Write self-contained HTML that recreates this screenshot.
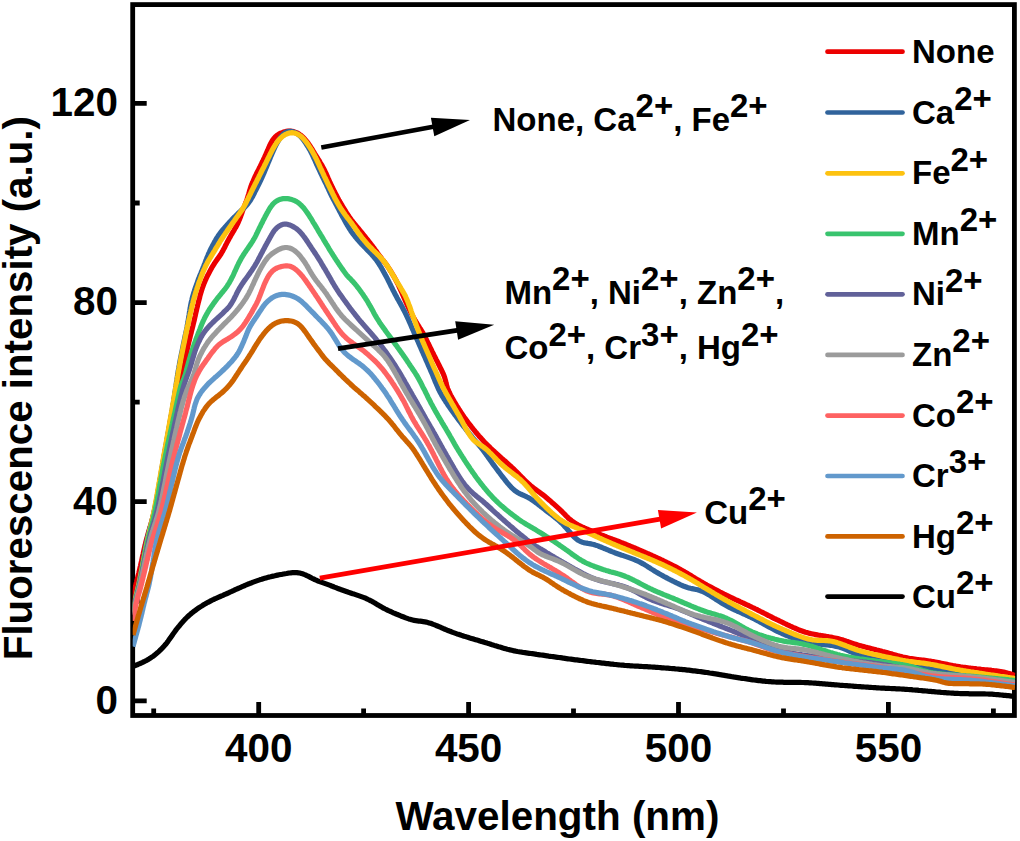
<!DOCTYPE html><html><head><meta charset="utf-8"><style>html,body{margin:0;padding:0;background:#fff;}svg{display:block;}text{font-family:"Liberation Sans",sans-serif;font-weight:bold;fill:#000;}</style></head><body>
<svg width="1020" height="841" viewBox="0 0 1020 841">
<rect width="1020" height="841" fill="#fff"/>
<defs><clipPath id="pc"><rect x="132.7" y="4.6" width="882.6" height="710.9"/></clipPath></defs>
<rect x="132.7" y="4.6" width="881.7" height="710.9" fill="none" stroke="#000" stroke-width="4.8"/>
<path d="M258.7,715.5 V702.0 M468.6,715.5 V702.0 M678.5,715.5 V702.0 M888.4,715.5 V702.0 M153.7,715.5 V708.5 M363.6,715.5 V708.5 M573.5,715.5 V708.5 M783.5,715.5 V708.5 M993.4,715.5 V708.5 M132.7,700.8 H146.7 M132.7,501.7 H146.7 M132.7,302.6 H146.7 M132.7,103.4 H146.7 M132.7,601.2 H139.7 M132.7,402.1 H139.7 M132.7,203.0 H139.7" stroke="#000" stroke-width="4.8" fill="none"/>
<g clip-path="url(#pc)" fill="none" stroke-width="5.2" stroke-linejoin="round" stroke-linecap="butt">
<path d="M133.0,601.0 L133.2,599.5 L133.4,598.0 L133.6,596.5 L133.9,595.1 L134.1,593.6 L134.4,592.1 L134.6,590.6 L134.9,589.2 L135.2,587.7 L135.6,586.2 L135.9,584.8 L136.2,583.3 L136.6,581.8 L136.9,580.4 L137.3,578.9 L137.7,577.5 L138.0,576.0 L138.4,574.6 L138.8,573.1 L139.1,571.7 L139.5,570.2 L139.8,568.7 L140.1,567.3 L140.5,565.8 L140.8,564.4 L141.1,562.9 L141.5,561.4 L141.8,560.0 L142.1,558.5 L142.4,557.0 L142.7,555.6 L143.1,554.1 L143.4,552.6 L143.7,551.2 L144.0,549.7 L144.4,548.2 L144.7,546.8 L145.0,545.3 L145.4,543.9 L145.7,542.4 L146.1,540.9 L146.5,539.5 L146.9,538.0 L147.3,536.6 L147.7,535.2 L148.1,533.7 L148.5,532.3 L148.9,530.8 L149.4,529.4 L149.8,528.0 L150.2,526.5 L150.7,525.1 L151.1,523.7 L151.5,522.2 L151.9,520.8 L152.3,519.3 L152.7,517.9 L153.1,516.4 L153.5,515.0 L153.9,513.5 L154.2,512.1 L154.5,510.6 L154.9,509.1 L155.2,507.7 L155.5,506.2 L155.8,504.7 L156.1,503.3 L156.4,501.8 L156.7,500.3 L156.9,498.9 L157.2,497.4 L157.5,495.9 L157.7,494.4 L158.0,492.9 L158.3,491.5 L158.5,490.0 L158.8,488.5 L159.0,487.0 L159.3,485.6 L159.5,484.1 L159.8,482.6 L160.0,481.1 L160.3,479.6 L160.5,478.2 L160.8,476.7 L161.0,475.2 L161.3,473.7 L161.5,472.2 L161.8,470.8 L162.0,469.3 L162.3,467.8 L162.5,466.3 L162.8,464.8 L163.0,463.4 L163.3,461.9 L163.5,460.4 L163.8,458.9 L164.0,457.5 L164.3,456.0 L164.5,454.5 L164.8,453.0 L165.1,451.5 L165.3,450.1 L165.6,448.6 L165.8,447.1 L166.1,445.6 L166.4,444.2 L166.6,442.7 L166.9,441.2 L167.1,439.7 L167.4,438.2 L167.6,436.8 L167.9,435.3 L168.2,433.8 L168.4,432.3 L168.7,430.9 L168.9,429.4 L169.2,427.9 L169.5,426.4 L169.7,425.0 L170.0,423.5 L170.2,422.0 L170.5,420.5 L170.8,419.0 L171.0,417.6 L171.3,416.1 L171.6,414.6 L171.8,413.1 L172.1,411.7 L172.4,410.2 L172.6,408.7 L172.9,407.2 L173.2,405.8 L173.4,404.3 L173.7,402.8 L174.0,401.3 L174.2,399.9 L174.5,398.4 L174.8,396.9 L175.1,395.4 L175.4,394.0 L175.7,392.5 L176.1,391.0 L176.4,389.6 L176.8,388.1 L177.2,386.7 L177.6,385.3 L178.1,383.8 L178.6,382.4 L179.1,381.0 L179.6,379.6 L180.2,378.2 L180.7,376.8 L181.3,375.4 L181.8,374.0 L182.3,372.6 L182.7,371.2 L183.1,369.7 L183.5,368.3 L183.9,366.8 L184.2,365.4 L184.6,363.9 L184.9,362.4 L185.1,361.0 L185.4,359.5 L185.7,358.0 L186.0,356.5 L186.2,355.1 L186.5,353.6 L186.8,352.1 L187.0,350.6 L187.3,349.2 L187.6,347.7 L187.9,346.2 L188.2,344.8 L188.6,343.3 L188.9,341.8 L189.3,340.4 L189.6,338.9 L190.0,337.5 L190.3,336.0 L190.7,334.6 L191.1,333.1 L191.4,331.7 L191.8,330.2 L192.2,328.7 L192.5,327.3 L192.9,325.8 L193.2,324.4 L193.6,322.9 L193.9,321.5 L194.3,320.0 L194.6,318.5 L194.9,317.1 L195.3,315.6 L195.6,314.1 L195.9,312.7 L196.3,311.2 L196.6,309.8 L196.9,308.3 L197.3,306.8 L197.6,305.4 L198.0,303.9 L198.3,302.5 L198.7,301.0 L199.1,299.6 L199.5,298.1 L199.8,296.7 L200.2,295.2 L200.6,293.8 L201.0,292.3 L201.5,290.9 L201.9,289.5 L202.4,288.0 L202.9,286.6 L203.4,285.2 L203.9,283.8 L204.5,282.4 L205.1,281.0 L205.7,279.7 L206.3,278.3 L206.9,276.9 L207.6,275.6 L208.3,274.3 L209.0,272.9 L209.7,271.6 L210.4,270.3 L211.1,269.0 L211.8,267.7 L212.6,266.4 L213.4,265.1 L214.2,263.8 L215.0,262.6 L215.9,261.3 L216.7,260.1 L217.6,258.9 L218.4,257.7 L219.3,256.4 L220.1,255.2 L221.0,253.9 L221.7,252.7 L222.5,251.4 L223.2,250.1 L223.9,248.7 L224.6,247.4 L225.3,246.1 L225.9,244.7 L226.6,243.4 L227.3,242.0 L228.0,240.7 L228.7,239.4 L229.4,238.1 L230.2,236.8 L230.9,235.5 L231.7,234.2 L232.4,232.9 L233.2,231.6 L234.0,230.3 L234.7,229.0 L235.5,227.7 L236.2,226.4 L236.9,225.1 L237.6,223.8 L238.2,222.4 L238.8,221.0 L239.4,219.7 L239.9,218.3 L240.5,216.9 L241.0,215.5 L241.5,214.1 L242.0,212.6 L242.5,211.2 L243.0,209.8 L243.6,208.4 L244.1,207.0 L244.7,205.6 L245.2,204.2 L245.8,202.8 L246.3,201.4 L246.8,200.0 L247.3,198.6 L247.7,197.2 L248.1,195.8 L248.6,194.3 L249.0,192.9 L249.4,191.4 L249.8,190.0 L250.3,188.6 L250.7,187.1 L251.2,185.7 L251.8,184.3 L252.3,182.9 L252.9,181.6 L253.5,180.2 L254.1,178.8 L254.7,177.4 L255.3,176.1 L256.0,174.7 L256.6,173.4 L257.3,172.0 L258.0,170.7 L258.7,169.4 L259.3,168.0 L260.0,166.7 L260.7,165.3 L261.4,164.0 L262.0,162.6 L262.7,161.3 L263.3,159.9 L263.9,158.6 L264.6,157.2 L265.2,155.9 L265.8,154.5 L266.4,153.1 L267.0,151.7 L267.6,150.4 L268.2,149.0 L268.8,147.6 L269.4,146.2 L270.0,144.9 L270.7,143.5 L271.4,142.2 L272.1,140.9 L272.9,139.7 L273.8,138.5 L274.8,137.4 L275.8,136.4 L276.9,135.4 L278.1,134.6 L279.4,133.8 L280.7,133.1 L282.1,132.6 L283.4,132.1 L284.9,131.7 L286.3,131.4 L287.8,131.2 L289.2,131.1 L290.7,131.2 L292.1,131.3 L293.6,131.6 L295.0,132.1 L296.3,132.6 L297.7,133.2 L298.9,134.0 L300.1,134.8 L301.3,135.7 L302.4,136.7 L303.5,137.7 L304.5,138.8 L305.5,139.9 L306.5,141.1 L307.4,142.2 L308.3,143.4 L309.2,144.7 L310.0,145.9 L310.8,147.2 L311.6,148.4 L312.4,149.7 L313.2,151.0 L314.0,152.3 L314.7,153.5 L315.5,154.8 L316.3,156.1 L317.1,157.4 L317.9,158.7 L318.7,159.9 L319.5,161.2 L320.2,162.5 L321.0,163.8 L321.8,165.1 L322.5,166.4 L323.2,167.7 L323.9,169.0 L324.6,170.4 L325.2,171.7 L325.9,173.1 L326.5,174.4 L327.1,175.8 L327.7,177.2 L328.3,178.6 L328.9,179.9 L329.5,181.3 L330.1,182.7 L330.8,184.0 L331.4,185.4 L332.1,186.7 L332.7,188.1 L333.4,189.4 L334.1,190.8 L334.7,192.1 L335.4,193.4 L336.1,194.8 L336.8,196.1 L337.5,197.4 L338.2,198.7 L338.9,200.0 L339.7,201.4 L340.4,202.7 L341.2,203.9 L341.9,205.2 L342.7,206.5 L343.5,207.8 L344.3,209.1 L345.1,210.4 L345.8,211.6 L346.6,212.9 L347.5,214.2 L348.3,215.4 L349.1,216.7 L350.0,217.9 L350.8,219.1 L351.7,220.3 L352.7,221.5 L353.6,222.7 L354.5,223.8 L355.5,225.0 L356.4,226.2 L357.4,227.3 L358.4,228.5 L359.3,229.6 L360.3,230.8 L361.2,231.9 L362.2,233.1 L363.1,234.3 L364.0,235.5 L365.0,236.6 L365.9,237.8 L366.8,239.0 L367.8,240.1 L368.7,241.3 L369.6,242.5 L370.6,243.7 L371.5,244.9 L372.4,246.0 L373.3,247.2 L374.2,248.4 L375.1,249.7 L376.0,250.9 L376.9,252.1 L377.7,253.3 L378.6,254.5 L379.5,255.7 L380.4,256.9 L381.3,258.1 L382.2,259.3 L383.2,260.5 L384.1,261.6 L385.0,262.8 L385.9,264.0 L386.8,265.3 L387.6,266.5 L388.5,267.7 L389.3,269.0 L390.1,270.3 L390.9,271.5 L391.7,272.8 L392.4,274.1 L393.2,275.4 L394.0,276.7 L394.7,278.0 L395.4,279.3 L396.2,280.6 L396.8,281.9 L397.5,283.3 L398.2,284.6 L398.8,286.0 L399.4,287.3 L400.0,288.7 L400.7,290.1 L401.3,291.4 L401.9,292.8 L402.5,294.2 L403.1,295.6 L403.7,296.9 L404.3,298.3 L404.9,299.7 L405.5,301.1 L406.1,302.4 L406.7,303.8 L407.3,305.2 L407.9,306.5 L408.6,307.9 L409.2,309.2 L409.9,310.6 L410.5,311.9 L411.2,313.3 L411.9,314.6 L412.6,315.9 L413.3,317.2 L414.1,318.5 L414.8,319.8 L415.6,321.1 L416.3,322.4 L417.1,323.7 L417.9,325.0 L418.7,326.2 L419.5,327.5 L420.3,328.8 L421.1,330.0 L421.9,331.3 L422.7,332.6 L423.4,333.9 L424.1,335.3 L424.8,336.6 L425.5,337.9 L426.1,339.3 L426.8,340.6 L427.5,342.0 L428.1,343.3 L428.8,344.6 L429.4,346.0 L430.1,347.3 L430.8,348.7 L431.4,350.0 L432.1,351.4 L432.8,352.7 L433.4,354.1 L434.1,355.4 L434.8,356.7 L435.5,358.1 L436.1,359.4 L436.8,360.8 L437.5,362.1 L438.2,363.4 L438.8,364.8 L439.5,366.1 L440.2,367.5 L440.8,368.8 L441.5,370.1 L442.1,371.5 L442.8,372.9 L443.4,374.2 L443.9,375.6 L444.5,377.0 L444.9,378.4 L445.3,379.9 L445.7,381.3 L446.0,382.7 L446.4,384.2 L446.7,385.6 L447.2,387.1 L447.6,388.5 L448.2,389.9 L448.8,391.2 L449.4,392.6 L450.1,393.9 L450.7,395.3 L451.5,396.6 L452.2,397.9 L452.9,399.2 L453.7,400.5 L454.4,401.8 L455.2,403.1 L455.9,404.4 L456.7,405.7 L457.5,406.9 L458.3,408.2 L459.1,409.5 L459.9,410.7 L460.7,412.0 L461.5,413.2 L462.4,414.5 L463.2,415.7 L464.1,417.0 L465.0,418.2 L465.8,419.4 L466.7,420.6 L467.6,421.8 L468.5,423.0 L469.4,424.2 L470.4,425.4 L471.3,426.6 L472.2,427.7 L473.1,428.9 L474.1,430.1 L475.0,431.3 L476.0,432.4 L476.9,433.6 L477.9,434.7 L478.9,435.9 L479.9,437.0 L480.9,438.1 L481.9,439.2 L482.9,440.3 L483.9,441.4 L484.9,442.5 L486.0,443.6 L487.0,444.6 L488.1,445.7 L489.2,446.7 L490.3,447.8 L491.4,448.8 L492.5,449.8 L493.6,450.8 L494.7,451.9 L495.8,452.9 L496.9,453.9 L498.0,454.9 L499.1,455.9 L500.2,456.9 L501.3,457.9 L502.5,458.9 L503.6,459.9 L504.7,460.8 L505.9,461.8 L507.0,462.8 L508.1,463.8 L509.2,464.8 L510.3,465.8 L511.4,466.9 L512.5,467.9 L513.6,468.9 L514.7,470.0 L515.7,471.0 L516.8,472.1 L517.8,473.2 L518.9,474.2 L519.9,475.3 L521.0,476.4 L522.0,477.5 L523.1,478.5 L524.1,479.6 L525.2,480.7 L526.3,481.7 L527.4,482.7 L528.5,483.7 L529.6,484.7 L530.7,485.7 L531.9,486.7 L533.1,487.6 L534.3,488.5 L535.5,489.4 L536.7,490.3 L537.9,491.2 L539.1,492.0 L540.3,492.9 L541.5,493.8 L542.7,494.7 L543.9,495.6 L545.1,496.6 L546.2,497.5 L547.4,498.5 L548.5,499.4 L549.7,500.4 L550.8,501.4 L551.9,502.4 L553.1,503.4 L554.2,504.4 L555.3,505.4 L556.4,506.4 L557.5,507.4 L558.6,508.4 L559.7,509.4 L560.8,510.5 L561.9,511.5 L562.9,512.6 L564.0,513.6 L565.0,514.7 L566.1,515.8 L567.2,516.8 L568.2,517.9 L569.4,518.9 L570.5,519.8 L571.7,520.8 L572.9,521.6 L574.1,522.5 L575.3,523.3 L576.6,524.1 L577.9,524.8 L579.3,525.5 L580.6,526.2 L581.9,526.8 L583.3,527.4 L584.7,528.1 L586.1,528.7 L587.4,529.2 L588.8,529.8 L590.2,530.4 L591.6,531.0 L593.0,531.5 L594.4,532.1 L595.8,532.7 L597.1,533.2 L598.5,533.8 L599.9,534.3 L601.3,534.9 L602.7,535.4 L604.1,536.0 L605.5,536.5 L606.9,537.1 L608.3,537.6 L609.7,538.1 L611.1,538.6 L612.5,539.2 L613.9,539.7 L615.3,540.2 L616.7,540.8 L618.1,541.3 L619.5,541.8 L620.9,542.4 L622.3,542.9 L623.7,543.5 L625.1,544.0 L626.5,544.6 L627.9,545.2 L629.3,545.7 L630.7,546.3 L632.1,546.9 L633.5,547.5 L634.8,548.0 L636.2,548.6 L637.6,549.2 L639.0,549.8 L640.4,550.4 L641.7,551.0 L643.1,551.6 L644.5,552.2 L645.9,552.8 L647.2,553.4 L648.6,554.0 L650.0,554.6 L651.4,555.2 L652.7,555.8 L654.1,556.4 L655.4,557.0 L656.8,557.7 L658.2,558.3 L659.5,558.9 L660.9,559.6 L662.2,560.2 L663.6,560.9 L664.9,561.5 L666.3,562.2 L667.6,562.9 L669.0,563.5 L670.3,564.2 L671.7,564.9 L673.0,565.5 L674.3,566.2 L675.7,566.9 L677.0,567.6 L678.3,568.3 L679.6,569.0 L681.0,569.8 L682.3,570.5 L683.6,571.2 L684.9,572.0 L686.2,572.7 L687.5,573.5 L688.7,574.3 L690.0,575.0 L691.3,575.8 L692.6,576.6 L693.9,577.4 L695.1,578.2 L696.4,579.0 L697.7,579.7 L699.0,580.5 L700.3,581.3 L701.6,582.0 L702.9,582.8 L704.2,583.5 L705.5,584.2 L706.8,585.0 L708.1,585.7 L709.4,586.4 L710.8,587.1 L712.1,587.8 L713.4,588.5 L714.7,589.2 L716.0,589.9 L717.4,590.6 L718.7,591.3 L720.0,592.0 L721.4,592.7 L722.7,593.4 L724.1,594.1 L725.4,594.7 L726.7,595.4 L728.1,596.0 L729.4,596.7 L730.8,597.3 L732.1,598.0 L733.5,598.6 L734.9,599.3 L736.2,599.9 L737.6,600.5 L739.0,601.1 L740.3,601.8 L741.7,602.4 L743.0,603.0 L744.4,603.6 L745.8,604.3 L747.1,604.9 L748.5,605.5 L749.8,606.2 L751.2,606.8 L752.6,607.5 L753.9,608.1 L755.2,608.8 L756.6,609.4 L757.9,610.1 L759.3,610.8 L760.6,611.5 L761.9,612.1 L763.3,612.8 L764.6,613.5 L766.0,614.2 L767.3,614.9 L768.6,615.6 L770.0,616.2 L771.3,616.9 L772.6,617.6 L774.0,618.3 L775.3,618.9 L776.7,619.6 L778.0,620.2 L779.4,620.9 L780.7,621.5 L782.1,622.2 L783.4,622.8 L784.8,623.5 L786.1,624.1 L787.5,624.8 L788.8,625.4 L790.2,626.1 L791.6,626.7 L792.9,627.3 L794.3,627.9 L795.7,628.5 L797.1,629.1 L798.4,629.7 L799.8,630.2 L801.2,630.7 L802.7,631.2 L804.1,631.7 L805.5,632.2 L806.9,632.6 L808.4,633.0 L809.8,633.4 L811.3,633.7 L812.8,634.0 L814.2,634.3 L815.7,634.6 L817.2,634.9 L818.7,635.2 L820.1,635.4 L821.6,635.7 L823.1,635.9 L824.6,636.1 L826.1,636.4 L827.5,636.6 L829.0,636.9 L830.5,637.1 L832.0,637.4 L833.4,637.7 L834.9,638.0 L836.4,638.3 L837.8,638.6 L839.3,639.0 L840.7,639.4 L842.2,639.8 L843.6,640.3 L845.0,640.7 L846.5,641.2 L847.9,641.6 L849.3,642.1 L850.7,642.6 L852.1,643.1 L853.6,643.6 L855.0,644.1 L856.4,644.5 L857.8,645.0 L859.3,645.4 L860.7,645.8 L862.2,646.2 L863.6,646.6 L865.1,647.0 L866.5,647.4 L868.0,647.7 L869.4,648.1 L870.9,648.5 L872.3,648.9 L873.8,649.2 L875.2,649.6 L876.7,650.0 L878.1,650.3 L879.6,650.7 L881.0,651.1 L882.5,651.5 L883.9,651.8 L885.4,652.2 L886.8,652.6 L888.3,653.0 L889.7,653.4 L891.2,653.8 L892.6,654.3 L894.1,654.7 L895.5,655.1 L896.9,655.5 L898.4,655.9 L899.8,656.2 L901.3,656.6 L902.8,657.0 L904.2,657.3 L905.7,657.6 L907.1,657.9 L908.6,658.2 L910.1,658.5 L911.6,658.7 L913.1,658.9 L914.5,659.1 L916.0,659.3 L917.5,659.5 L919.0,659.7 L920.5,659.8 L922.0,660.0 L923.5,660.2 L925.0,660.4 L926.5,660.6 L927.9,660.8 L929.4,661.0 L930.9,661.2 L932.4,661.5 L933.9,661.7 L935.3,662.0 L936.8,662.3 L938.3,662.6 L939.7,662.9 L941.2,663.2 L942.7,663.5 L944.1,663.8 L945.6,664.1 L947.1,664.4 L948.6,664.7 L950.0,665.0 L951.5,665.3 L953.0,665.6 L954.5,665.8 L955.9,666.1 L957.4,666.3 L958.9,666.5 L960.4,666.8 L961.9,667.0 L963.3,667.2 L964.8,667.4 L966.3,667.6 L967.8,667.8 L969.3,668.0 L970.8,668.2 L972.3,668.3 L973.8,668.5 L975.3,668.7 L976.7,668.9 L978.2,669.0 L979.7,669.2 L981.2,669.4 L982.7,669.5 L984.2,669.7 L985.7,669.8 L987.2,669.9 L988.7,670.1 L990.2,670.2 L991.7,670.4 L993.2,670.5 L994.6,670.7 L996.1,670.9 L997.6,671.1 L999.1,671.3 L1000.6,671.5 L1002.1,671.8 L1003.5,672.1 L1005.0,672.4 L1006.4,672.8 L1007.9,673.2 L1009.3,673.6 L1010.8,674.0 L1012.2,674.5 L1013.6,675.0 L1015.0,675.4 L1015.0,675.4" stroke="#ec0000"/>
<path d="M133.0,611.0 L133.3,609.5 L133.5,608.0 L133.8,606.6 L134.0,605.1 L134.3,603.6 L134.6,602.1 L134.9,600.7 L135.2,599.2 L135.5,597.7 L135.9,596.3 L136.2,594.8 L136.5,593.4 L136.9,591.9 L137.2,590.4 L137.6,589.0 L137.9,587.5 L138.3,586.1 L138.6,584.6 L138.9,583.1 L139.2,581.7 L139.5,580.2 L139.8,578.7 L140.1,577.3 L140.4,575.8 L140.7,574.3 L141.0,572.8 L141.2,571.4 L141.5,569.9 L141.8,568.4 L142.0,566.9 L142.3,565.5 L142.6,564.0 L142.8,562.5 L143.1,561.0 L143.3,559.5 L143.6,558.1 L143.9,556.6 L144.1,555.1 L144.4,553.6 L144.7,552.2 L144.9,550.7 L145.2,549.2 L145.5,547.7 L145.8,546.3 L146.0,544.8 L146.3,543.3 L146.6,541.9 L147.0,540.4 L147.3,538.9 L147.6,537.5 L148.0,536.0 L148.3,534.5 L148.7,533.1 L149.0,531.6 L149.4,530.2 L149.8,528.7 L150.2,527.3 L150.6,525.8 L151.0,524.4 L151.4,522.9 L151.8,521.5 L152.1,520.0 L152.5,518.6 L152.9,517.1 L153.2,515.7 L153.6,514.2 L153.9,512.7 L154.2,511.3 L154.5,509.8 L154.8,508.4 L155.1,506.9 L155.4,505.4 L155.7,503.9 L156.0,502.5 L156.3,501.0 L156.6,499.5 L156.8,498.0 L157.1,496.6 L157.4,495.1 L157.6,493.6 L157.9,492.1 L158.1,490.7 L158.4,489.2 L158.7,487.7 L158.9,486.2 L159.2,484.7 L159.4,483.3 L159.7,481.8 L159.9,480.3 L160.2,478.8 L160.4,477.4 L160.7,475.9 L160.9,474.4 L161.2,472.9 L161.4,471.4 L161.7,470.0 L161.9,468.5 L162.2,467.0 L162.4,465.5 L162.7,464.0 L162.9,462.6 L163.2,461.1 L163.5,459.6 L163.7,458.1 L164.0,456.7 L164.2,455.2 L164.5,453.7 L164.8,452.2 L165.0,450.7 L165.3,449.3 L165.5,447.8 L165.8,446.3 L166.1,444.8 L166.3,443.4 L166.6,441.9 L166.9,440.4 L167.1,438.9 L167.4,437.5 L167.7,436.0 L167.9,434.5 L168.2,433.0 L168.5,431.6 L168.7,430.1 L169.0,428.6 L169.2,427.1 L169.5,425.6 L169.8,424.2 L170.0,422.7 L170.3,421.2 L170.5,419.7 L170.8,418.3 L171.0,416.8 L171.3,415.3 L171.6,413.8 L171.8,412.3 L172.0,410.9 L172.3,409.4 L172.5,407.9 L172.8,406.4 L173.0,404.9 L173.3,403.5 L173.5,402.0 L173.7,400.5 L173.9,399.0 L174.2,397.5 L174.4,396.0 L174.6,394.6 L174.8,393.1 L175.1,391.6 L175.3,390.1 L175.5,388.6 L175.7,387.1 L176.0,385.7 L176.2,384.2 L176.4,382.7 L176.6,381.2 L176.9,379.7 L177.1,378.2 L177.3,376.8 L177.5,375.3 L177.8,373.8 L178.0,372.3 L178.3,370.8 L178.5,369.4 L178.8,367.9 L179.0,366.4 L179.3,364.9 L179.5,363.5 L179.8,362.0 L180.1,360.5 L180.4,359.0 L180.7,357.6 L181.0,356.1 L181.3,354.6 L181.6,353.1 L181.9,351.7 L182.2,350.2 L182.5,348.7 L182.8,347.3 L183.1,345.8 L183.4,344.3 L183.7,342.9 L184.0,341.4 L184.3,339.9 L184.6,338.5 L184.9,337.0 L185.2,335.5 L185.6,334.1 L185.9,332.6 L186.2,331.1 L186.5,329.7 L186.8,328.2 L187.1,326.7 L187.3,325.2 L187.6,323.8 L187.9,322.3 L188.1,320.8 L188.4,319.3 L188.6,317.9 L188.8,316.4 L189.1,314.9 L189.3,313.4 L189.5,311.9 L189.8,310.4 L190.0,309.0 L190.3,307.5 L190.5,306.0 L190.8,304.5 L191.1,303.1 L191.4,301.6 L191.8,300.1 L192.1,298.7 L192.5,297.2 L192.9,295.8 L193.3,294.3 L193.7,292.9 L194.2,291.5 L194.6,290.0 L195.1,288.6 L195.6,287.2 L196.1,285.8 L196.6,284.4 L197.1,283.0 L197.6,281.5 L198.1,280.1 L198.6,278.7 L199.2,277.3 L199.7,276.0 L200.3,274.6 L200.9,273.2 L201.4,271.8 L202.0,270.4 L202.6,269.0 L203.1,267.6 L203.7,266.2 L204.2,264.8 L204.8,263.4 L205.3,262.0 L205.8,260.6 L206.4,259.2 L206.9,257.8 L207.5,256.4 L208.1,255.0 L208.6,253.7 L209.3,252.3 L209.9,250.9 L210.5,249.6 L211.2,248.2 L211.9,246.9 L212.6,245.6 L213.3,244.3 L214.0,242.9 L214.7,241.6 L215.5,240.3 L216.2,239.0 L217.0,237.8 L217.8,236.5 L218.6,235.2 L219.5,234.0 L220.4,232.8 L221.3,231.6 L222.2,230.5 L223.2,229.3 L224.2,228.2 L225.2,227.1 L226.2,225.9 L227.2,224.8 L228.2,223.7 L229.2,222.6 L230.2,221.5 L231.2,220.4 L232.2,219.3 L233.3,218.2 L234.3,217.1 L235.4,216.1 L236.5,215.0 L237.5,214.0 L238.6,212.9 L239.7,211.9 L240.8,210.9 L241.9,209.8 L243.0,208.8 L244.1,207.8 L245.1,206.8 L246.2,205.7 L247.2,204.6 L248.1,203.4 L249.0,202.2 L249.9,201.0 L250.7,199.8 L251.4,198.5 L252.2,197.2 L252.9,195.9 L253.6,194.5 L254.3,193.2 L254.9,191.8 L255.6,190.5 L256.3,189.2 L257.0,187.8 L257.6,186.5 L258.3,185.2 L259.0,183.8 L259.6,182.5 L260.3,181.1 L260.9,179.8 L261.6,178.4 L262.2,177.0 L262.8,175.7 L263.4,174.3 L264.0,172.9 L264.6,171.5 L265.2,170.1 L265.7,168.8 L266.3,167.4 L266.9,166.0 L267.5,164.6 L268.0,163.2 L268.6,161.8 L269.2,160.5 L269.8,159.1 L270.3,157.7 L270.9,156.3 L271.5,154.9 L272.1,153.5 L272.7,152.2 L273.3,150.8 L273.9,149.4 L274.5,148.1 L275.2,146.7 L275.8,145.4 L276.5,144.0 L277.2,142.7 L278.0,141.4 L278.8,140.1 L279.6,138.9 L280.4,137.6 L281.3,136.4 L282.2,135.3 L283.2,134.2 L284.2,133.3 L285.4,132.5 L286.6,131.9 L287.9,131.5 L289.2,131.4 L290.6,131.4 L292.0,131.6 L293.4,132.0 L294.8,132.5 L296.1,133.1 L297.3,133.9 L298.5,134.7 L299.6,135.7 L300.7,136.7 L301.7,137.8 L302.7,138.9 L303.6,140.1 L304.4,141.3 L305.3,142.6 L306.1,143.8 L306.9,145.1 L307.7,146.4 L308.5,147.6 L309.2,148.9 L310.0,150.2 L310.7,151.6 L311.4,152.9 L312.0,154.2 L312.7,155.6 L313.3,156.9 L313.9,158.3 L314.6,159.7 L315.2,161.0 L315.8,162.4 L316.4,163.8 L317.0,165.1 L317.7,166.5 L318.3,167.9 L318.9,169.2 L319.6,170.6 L320.2,171.9 L320.8,173.3 L321.5,174.7 L322.1,176.0 L322.8,177.4 L323.4,178.7 L324.1,180.1 L324.7,181.4 L325.4,182.8 L326.1,184.1 L326.7,185.5 L327.3,186.8 L328.0,188.2 L328.6,189.5 L329.2,190.9 L329.9,192.3 L330.5,193.6 L331.2,195.0 L331.8,196.3 L332.5,197.6 L333.2,199.0 L333.9,200.3 L334.6,201.6 L335.3,202.9 L336.0,204.3 L336.7,205.6 L337.4,206.9 L338.1,208.2 L338.8,209.6 L339.5,210.9 L340.2,212.2 L340.9,213.6 L341.6,214.9 L342.3,216.2 L343.0,217.5 L343.8,218.8 L344.5,220.2 L345.2,221.5 L345.9,222.8 L346.7,224.1 L347.4,225.4 L348.2,226.7 L349.0,228.0 L349.8,229.2 L350.6,230.5 L351.4,231.7 L352.3,232.9 L353.2,234.1 L354.1,235.3 L355.0,236.5 L356.0,237.7 L356.9,238.8 L357.9,239.9 L358.9,241.1 L359.9,242.2 L360.9,243.3 L361.9,244.4 L363.0,245.5 L364.0,246.6 L365.1,247.6 L366.1,248.7 L367.2,249.8 L368.2,250.8 L369.3,251.9 L370.3,253.0 L371.3,254.1 L372.3,255.2 L373.3,256.3 L374.3,257.5 L375.2,258.6 L376.1,259.8 L377.0,261.0 L377.9,262.3 L378.7,263.5 L379.5,264.8 L380.3,266.0 L381.1,267.3 L381.8,268.6 L382.6,269.9 L383.3,271.2 L384.0,272.5 L384.8,273.9 L385.5,275.2 L386.2,276.5 L386.9,277.8 L387.6,279.2 L388.2,280.5 L388.9,281.8 L389.6,283.2 L390.3,284.5 L390.9,285.9 L391.6,287.2 L392.3,288.6 L392.9,289.9 L393.6,291.2 L394.3,292.6 L395.0,293.9 L395.7,295.2 L396.4,296.5 L397.1,297.9 L397.8,299.2 L398.6,300.5 L399.3,301.8 L400.1,303.1 L400.8,304.4 L401.5,305.7 L402.2,307.0 L402.9,308.4 L403.6,309.7 L404.3,311.0 L405.0,312.4 L405.6,313.7 L406.3,315.1 L406.9,316.4 L407.6,317.8 L408.2,319.1 L408.8,320.5 L409.4,321.9 L410.0,323.2 L410.6,324.6 L411.2,326.0 L411.8,327.4 L412.4,328.8 L413.0,330.1 L413.6,331.5 L414.2,332.9 L414.8,334.3 L415.4,335.6 L416.0,337.0 L416.6,338.4 L417.2,339.8 L417.8,341.1 L418.4,342.5 L419.0,343.9 L419.6,345.3 L420.2,346.6 L420.8,348.0 L421.4,349.4 L422.0,350.8 L422.6,352.1 L423.2,353.5 L423.8,354.9 L424.4,356.2 L425.0,357.6 L425.6,359.0 L426.2,360.4 L426.8,361.7 L427.4,363.1 L428.0,364.5 L428.6,365.9 L429.2,367.2 L429.8,368.6 L430.4,370.0 L431.0,371.4 L431.6,372.7 L432.2,374.1 L432.8,375.5 L433.3,376.9 L433.9,378.3 L434.5,379.7 L435.0,381.1 L435.6,382.4 L436.2,383.8 L436.8,385.2 L437.4,386.6 L438.0,388.0 L438.6,389.3 L439.3,390.7 L439.9,392.0 L440.7,393.3 L441.4,394.6 L442.1,395.9 L442.9,397.2 L443.7,398.5 L444.5,399.7 L445.3,401.0 L446.1,402.3 L447.0,403.5 L447.8,404.8 L448.6,406.0 L449.5,407.2 L450.4,408.5 L451.2,409.7 L452.1,410.9 L453.0,412.1 L453.8,413.3 L454.7,414.6 L455.6,415.8 L456.5,417.0 L457.4,418.2 L458.3,419.4 L459.2,420.6 L460.1,421.8 L461.0,423.0 L461.9,424.2 L462.8,425.4 L463.7,426.5 L464.7,427.7 L465.6,428.9 L466.5,430.1 L467.4,431.3 L468.4,432.4 L469.3,433.6 L470.2,434.8 L471.2,435.9 L472.1,437.1 L473.1,438.3 L474.0,439.4 L475.0,440.6 L476.0,441.7 L477.0,442.8 L478.0,444.0 L478.9,445.1 L479.9,446.3 L480.8,447.4 L481.8,448.6 L482.7,449.8 L483.6,451.0 L484.5,452.2 L485.4,453.4 L486.2,454.6 L487.1,455.8 L488.0,457.1 L488.8,458.3 L489.7,459.5 L490.6,460.7 L491.5,461.9 L492.3,463.2 L493.2,464.4 L494.1,465.6 L495.0,466.8 L495.9,468.0 L496.8,469.2 L497.7,470.4 L498.6,471.6 L499.5,472.8 L500.4,474.0 L501.3,475.2 L502.2,476.4 L503.1,477.6 L504.1,478.7 L505.0,479.9 L505.9,481.1 L506.8,482.3 L507.8,483.4 L508.8,484.6 L509.8,485.7 L510.8,486.8 L511.8,487.9 L512.9,488.9 L514.0,489.9 L515.2,490.8 L516.4,491.7 L517.6,492.5 L518.9,493.2 L520.2,493.9 L521.6,494.5 L523.0,495.1 L524.3,495.7 L525.7,496.3 L527.0,497.0 L528.4,497.7 L529.7,498.4 L530.9,499.2 L532.2,500.0 L533.4,500.8 L534.6,501.7 L535.8,502.6 L537.0,503.5 L538.2,504.4 L539.4,505.3 L540.6,506.3 L541.8,507.2 L543.0,508.1 L544.2,509.0 L545.3,509.9 L546.5,510.9 L547.7,511.8 L548.9,512.7 L550.1,513.6 L551.3,514.5 L552.5,515.4 L553.7,516.3 L554.8,517.3 L556.0,518.2 L557.2,519.2 L558.3,520.1 L559.4,521.1 L560.5,522.1 L561.6,523.2 L562.7,524.2 L563.7,525.3 L564.7,526.4 L565.7,527.5 L566.7,528.6 L567.7,529.8 L568.7,530.9 L569.7,532.0 L570.7,533.2 L571.7,534.3 L572.7,535.4 L573.7,536.5 L574.8,537.5 L575.9,538.5 L577.0,539.4 L578.2,540.3 L579.5,541.0 L580.8,541.6 L582.2,542.2 L583.6,542.6 L585.0,542.9 L586.5,543.1 L587.9,543.4 L589.4,543.6 L590.9,543.9 L592.3,544.2 L593.8,544.5 L595.2,545.0 L596.6,545.4 L598.0,545.9 L599.4,546.5 L600.8,547.0 L602.2,547.6 L603.6,548.2 L605.0,548.7 L606.4,549.3 L607.8,549.9 L609.1,550.5 L610.5,551.0 L611.9,551.6 L613.3,552.1 L614.7,552.7 L616.1,553.2 L617.5,553.7 L619.0,554.2 L620.4,554.7 L621.8,555.2 L623.2,555.6 L624.6,556.1 L626.1,556.6 L627.5,557.1 L628.9,557.6 L630.3,558.1 L631.7,558.6 L633.1,559.1 L634.5,559.7 L635.9,560.3 L637.3,560.9 L638.6,561.5 L640.0,562.2 L641.3,562.9 L642.6,563.6 L643.9,564.3 L645.2,565.1 L646.5,565.9 L647.7,566.7 L649.0,567.5 L650.3,568.3 L651.5,569.1 L652.8,569.9 L654.1,570.7 L655.3,571.5 L656.6,572.2 L657.9,573.0 L659.2,573.8 L660.5,574.5 L661.8,575.2 L663.1,575.9 L664.5,576.7 L665.8,577.4 L667.1,578.1 L668.4,578.8 L669.8,579.5 L671.1,580.2 L672.4,580.8 L673.8,581.5 L675.1,582.2 L676.5,582.9 L677.8,583.5 L679.2,584.1 L680.5,584.8 L681.9,585.4 L683.3,586.0 L684.7,586.5 L686.1,587.0 L687.5,587.5 L688.9,587.9 L690.4,588.3 L691.8,588.6 L693.3,588.9 L694.8,589.2 L696.2,589.5 L697.7,589.8 L699.1,590.3 L700.5,590.7 L701.9,591.2 L703.3,591.8 L704.6,592.5 L706.0,593.2 L707.3,593.9 L708.6,594.6 L709.8,595.4 L711.1,596.2 L712.4,597.0 L713.6,597.8 L714.9,598.7 L716.1,599.5 L717.4,600.3 L718.7,601.1 L719.9,601.9 L721.2,602.7 L722.5,603.5 L723.8,604.3 L725.1,605.0 L726.4,605.7 L727.7,606.4 L729.0,607.1 L730.4,607.8 L731.7,608.5 L733.1,609.1 L734.4,609.8 L735.8,610.4 L737.1,611.0 L738.5,611.6 L739.9,612.2 L741.3,612.8 L742.6,613.5 L744.0,614.1 L745.4,614.7 L746.7,615.3 L748.1,615.9 L749.4,616.6 L750.8,617.2 L752.1,617.9 L753.5,618.5 L754.8,619.2 L756.1,619.9 L757.5,620.6 L758.8,621.3 L760.1,622.1 L761.4,622.8 L762.7,623.5 L764.0,624.2 L765.4,625.0 L766.7,625.7 L768.0,626.4 L769.3,627.1 L770.6,627.8 L771.9,628.5 L773.3,629.2 L774.6,629.9 L775.9,630.6 L777.3,631.3 L778.6,631.9 L780.0,632.5 L781.4,633.2 L782.7,633.8 L784.1,634.4 L785.5,635.0 L786.9,635.6 L788.3,636.1 L789.6,636.7 L791.0,637.2 L792.4,637.8 L793.8,638.3 L795.3,638.8 L796.7,639.3 L798.1,639.8 L799.5,640.2 L801.0,640.7 L802.4,641.1 L803.8,641.5 L805.3,641.8 L806.8,642.2 L808.2,642.5 L809.7,642.8 L811.2,643.0 L812.6,643.3 L814.1,643.5 L815.6,643.7 L817.1,643.8 L818.6,644.0 L820.1,644.1 L821.6,644.3 L823.1,644.5 L824.6,644.6 L826.1,644.8 L827.5,644.9 L829.0,645.1 L830.5,645.3 L832.0,645.5 L833.5,645.8 L835.0,646.1 L836.4,646.4 L837.9,646.7 L839.3,647.1 L840.7,647.6 L842.2,648.1 L843.6,648.6 L844.9,649.1 L846.3,649.7 L847.7,650.3 L849.1,650.9 L850.4,651.6 L851.8,652.2 L853.2,652.8 L854.5,653.4 L855.9,654.0 L857.3,654.5 L858.7,655.0 L860.1,655.4 L861.6,655.8 L863.0,656.2 L864.5,656.5 L866.0,656.8 L867.5,657.0 L868.9,657.2 L870.4,657.4 L871.9,657.6 L873.4,657.8 L874.9,657.9 L876.4,658.1 L877.9,658.3 L879.3,658.5 L880.8,658.8 L882.3,659.0 L883.8,659.3 L885.3,659.5 L886.7,659.8 L888.2,660.0 L889.7,660.3 L891.2,660.5 L892.7,660.8 L894.1,661.1 L895.6,661.3 L897.1,661.6 L898.6,661.9 L900.0,662.2 L901.5,662.4 L903.0,662.7 L904.5,663.0 L905.9,663.3 L907.4,663.6 L908.9,663.9 L910.3,664.2 L911.8,664.5 L913.3,664.9 L914.7,665.2 L916.2,665.5 L917.6,665.9 L919.1,666.2 L920.6,666.5 L922.0,666.9 L923.5,667.2 L925.0,667.5 L926.4,667.8 L927.9,668.1 L929.4,668.3 L930.9,668.6 L932.3,668.9 L933.8,669.1 L935.3,669.3 L936.8,669.5 L938.3,669.7 L939.8,669.9 L941.2,670.1 L942.7,670.3 L944.2,670.5 L945.7,670.7 L947.2,670.9 L948.7,671.0 L950.2,671.2 L951.7,671.4 L953.2,671.5 L954.7,671.7 L956.1,671.9 L957.6,672.0 L959.1,672.2 L960.6,672.4 L962.1,672.6 L963.6,672.7 L965.1,672.9 L966.6,673.1 L968.1,673.3 L969.6,673.4 L971.0,673.6 L972.5,673.8 L974.0,674.0 L975.5,674.2 L977.0,674.4 L978.5,674.6 L980.0,674.8 L981.4,675.0 L982.9,675.2 L984.4,675.5 L985.9,675.7 L987.4,675.9 L988.9,676.1 L990.4,676.3 L991.8,676.5 L993.3,676.7 L994.8,677.0 L996.3,677.2 L997.8,677.4 L999.3,677.6 L1000.7,677.8 L1002.2,678.1 L1003.7,678.3 L1005.2,678.5 L1006.7,678.7 L1008.2,678.9 L1009.6,679.2 L1011.1,679.4 L1012.6,679.6 L1014.1,679.8 L1015.1,680.0" stroke="#30639b"/>
<path d="M133.0,612.0 L133.3,610.5 L133.5,609.0 L133.8,607.6 L134.0,606.1 L134.3,604.6 L134.6,603.1 L134.9,601.7 L135.2,600.2 L135.5,598.7 L135.9,597.3 L136.2,595.8 L136.5,594.4 L136.9,592.9 L137.2,591.4 L137.6,590.0 L137.9,588.5 L138.2,587.1 L138.6,585.6 L138.9,584.1 L139.2,582.7 L139.5,581.2 L139.8,579.7 L140.1,578.3 L140.4,576.8 L140.7,575.3 L141.0,573.8 L141.3,572.4 L141.6,570.9 L141.9,569.4 L142.2,568.0 L142.5,566.5 L142.7,565.0 L143.0,563.5 L143.3,562.1 L143.6,560.6 L143.9,559.1 L144.1,557.6 L144.4,556.2 L144.7,554.7 L145.0,553.2 L145.3,551.8 L145.6,550.3 L145.9,548.8 L146.1,547.3 L146.4,545.9 L146.7,544.4 L147.0,542.9 L147.3,541.5 L147.6,540.0 L147.9,538.5 L148.2,537.0 L148.6,535.6 L148.9,534.1 L149.2,532.7 L149.5,531.2 L149.9,529.7 L150.2,528.3 L150.6,526.8 L150.9,525.3 L151.2,523.9 L151.6,522.4 L151.9,521.0 L152.2,519.5 L152.6,518.0 L152.9,516.6 L153.2,515.1 L153.5,513.6 L153.8,512.2 L154.1,510.7 L154.4,509.2 L154.7,507.7 L154.9,506.3 L155.2,504.8 L155.5,503.3 L155.8,501.8 L156.0,500.4 L156.3,498.9 L156.6,497.4 L156.8,495.9 L157.1,494.5 L157.4,493.0 L157.6,491.5 L157.9,490.0 L158.1,488.6 L158.4,487.1 L158.7,485.6 L158.9,484.1 L159.2,482.6 L159.4,481.2 L159.7,479.7 L159.9,478.2 L160.2,476.7 L160.4,475.3 L160.7,473.8 L161.0,472.3 L161.2,470.8 L161.5,469.3 L161.7,467.9 L162.0,466.4 L162.2,464.9 L162.5,463.4 L162.7,462.0 L163.0,460.5 L163.3,459.0 L163.5,457.5 L163.8,456.0 L164.0,454.6 L164.3,453.1 L164.6,451.6 L164.8,450.1 L165.1,448.7 L165.3,447.2 L165.6,445.7 L165.9,444.2 L166.1,442.7 L166.4,441.3 L166.6,439.8 L166.9,438.3 L167.2,436.8 L167.4,435.4 L167.7,433.9 L168.0,432.4 L168.2,430.9 L168.5,429.5 L168.7,428.0 L169.0,426.5 L169.3,425.0 L169.5,423.5 L169.8,422.1 L170.0,420.6 L170.3,419.1 L170.6,417.6 L170.8,416.2 L171.1,414.7 L171.3,413.2 L171.6,411.7 L171.9,410.2 L172.1,408.8 L172.4,407.3 L172.6,405.8 L172.9,404.3 L173.1,402.9 L173.4,401.4 L173.6,399.9 L173.9,398.4 L174.1,396.9 L174.4,395.5 L174.6,394.0 L174.9,392.5 L175.2,391.0 L175.4,389.6 L175.7,388.1 L175.9,386.6 L176.2,385.1 L176.4,383.6 L176.7,382.2 L176.9,380.7 L177.2,379.2 L177.4,377.7 L177.7,376.2 L177.9,374.8 L178.2,373.3 L178.5,371.8 L178.7,370.3 L179.0,368.9 L179.3,367.4 L179.5,365.9 L179.8,364.4 L180.1,363.0 L180.4,361.5 L180.6,360.0 L180.9,358.5 L181.2,357.1 L181.5,355.6 L181.8,354.1 L182.1,352.7 L182.4,351.2 L182.7,349.7 L183.0,348.2 L183.3,346.8 L183.6,345.3 L183.9,343.8 L184.2,342.4 L184.5,340.9 L184.8,339.4 L185.1,338.0 L185.4,336.5 L185.7,335.0 L186.0,333.5 L186.3,332.1 L186.6,330.6 L186.9,329.1 L187.2,327.7 L187.6,326.2 L187.9,324.7 L188.2,323.3 L188.5,321.8 L188.8,320.4 L189.1,318.9 L189.5,317.4 L189.8,316.0 L190.1,314.5 L190.4,313.0 L190.8,311.6 L191.1,310.1 L191.5,308.6 L191.8,307.2 L192.1,305.7 L192.5,304.3 L192.9,302.8 L193.2,301.4 L193.6,299.9 L194.0,298.5 L194.4,297.0 L194.8,295.6 L195.2,294.1 L195.7,292.7 L196.1,291.3 L196.6,289.8 L197.0,288.4 L197.5,287.0 L198.0,285.6 L198.4,284.1 L198.9,282.7 L199.4,281.3 L200.0,279.9 L200.5,278.5 L201.0,277.1 L201.5,275.7 L202.1,274.3 L202.6,272.9 L203.2,271.5 L203.8,270.1 L204.4,268.8 L205.0,267.4 L205.7,266.0 L206.3,264.7 L207.0,263.4 L207.7,262.0 L208.5,260.7 L209.2,259.4 L210.0,258.2 L210.8,256.9 L211.5,255.6 L212.3,254.3 L213.1,253.0 L213.9,251.8 L214.7,250.5 L215.4,249.2 L216.2,247.9 L217.0,246.6 L217.8,245.3 L218.5,244.1 L219.3,242.8 L220.1,241.5 L220.9,240.2 L221.7,239.0 L222.6,237.7 L223.4,236.5 L224.2,235.2 L225.1,234.0 L225.9,232.7 L226.8,231.5 L227.6,230.3 L228.5,229.0 L229.3,227.8 L230.2,226.6 L231.1,225.4 L231.9,224.1 L232.8,222.9 L233.6,221.7 L234.5,220.5 L235.4,219.2 L236.2,218.0 L237.1,216.8 L238.0,215.6 L238.9,214.3 L239.7,213.1 L240.6,211.9 L241.4,210.7 L242.3,209.4 L243.0,208.1 L243.8,206.9 L244.5,205.5 L245.2,204.2 L245.9,202.9 L246.6,201.5 L247.2,200.2 L247.9,198.9 L248.6,197.5 L249.2,196.2 L249.9,194.8 L250.6,193.5 L251.2,192.1 L251.9,190.8 L252.5,189.4 L253.2,188.1 L253.9,186.8 L254.5,185.4 L255.2,184.1 L255.9,182.7 L256.6,181.4 L257.2,180.0 L257.9,178.7 L258.6,177.4 L259.2,176.0 L259.9,174.7 L260.6,173.3 L261.3,172.0 L261.9,170.7 L262.6,169.3 L263.3,168.0 L264.0,166.6 L264.6,165.3 L265.3,164.0 L266.0,162.6 L266.6,161.3 L267.3,159.9 L268.0,158.6 L268.6,157.2 L269.3,155.9 L270.0,154.5 L270.6,153.2 L271.3,151.9 L272.0,150.5 L272.7,149.2 L273.5,147.9 L274.2,146.6 L275.0,145.3 L275.8,144.1 L276.6,142.8 L277.5,141.6 L278.4,140.4 L279.4,139.3 L280.4,138.3 L281.5,137.3 L282.6,136.3 L283.9,135.5 L285.1,134.7 L286.4,134.1 L287.8,133.5 L289.1,133.1 L290.5,132.8 L291.9,132.7 L293.4,132.8 L294.7,133.0 L296.1,133.5 L297.4,134.1 L298.7,134.8 L299.9,135.6 L301.1,136.5 L302.2,137.5 L303.2,138.5 L304.2,139.6 L305.2,140.8 L306.1,141.9 L307.0,143.1 L307.9,144.4 L308.7,145.6 L309.5,146.9 L310.3,148.1 L311.1,149.4 L311.9,150.7 L312.6,152.0 L313.3,153.3 L314.1,154.6 L314.8,156.0 L315.4,157.3 L316.1,158.6 L316.8,160.0 L317.4,161.3 L318.0,162.7 L318.7,164.1 L319.3,165.4 L319.9,166.8 L320.5,168.1 L321.2,169.5 L321.8,170.9 L322.4,172.2 L323.1,173.6 L323.7,174.9 L324.3,176.3 L325.0,177.7 L325.6,179.0 L326.3,180.4 L326.9,181.7 L327.5,183.1 L328.2,184.4 L328.8,185.8 L329.5,187.1 L330.1,188.5 L330.8,189.8 L331.5,191.2 L332.1,192.5 L332.8,193.9 L333.5,195.2 L334.1,196.6 L334.8,197.9 L335.5,199.2 L336.2,200.5 L336.9,201.9 L337.7,203.2 L338.4,204.5 L339.2,205.8 L339.9,207.1 L340.7,208.3 L341.5,209.6 L342.4,210.8 L343.2,212.1 L344.1,213.3 L344.9,214.5 L345.8,215.7 L346.7,216.9 L347.6,218.1 L348.6,219.3 L349.5,220.5 L350.4,221.7 L351.3,222.9 L352.2,224.1 L353.0,225.3 L353.9,226.5 L354.8,227.8 L355.6,229.0 L356.5,230.2 L357.4,231.5 L358.2,232.7 L359.1,233.9 L360.0,235.1 L360.9,236.3 L361.8,237.5 L362.7,238.7 L363.7,239.8 L364.6,241.0 L365.6,242.1 L366.6,243.3 L367.6,244.4 L368.6,245.5 L369.6,246.6 L370.7,247.6 L371.7,248.7 L372.8,249.8 L373.9,250.8 L374.9,251.9 L376.0,252.9 L377.1,254.0 L378.2,255.0 L379.2,256.1 L380.2,257.2 L381.3,258.3 L382.3,259.4 L383.2,260.5 L384.2,261.7 L385.1,262.9 L386.0,264.1 L386.9,265.3 L387.7,266.5 L388.5,267.8 L389.3,269.0 L390.1,270.3 L390.9,271.6 L391.7,272.9 L392.4,274.2 L393.2,275.5 L394.0,276.7 L394.7,278.0 L395.5,279.3 L396.3,280.6 L397.1,281.9 L397.8,283.2 L398.6,284.5 L399.4,285.7 L400.2,287.0 L400.9,288.3 L401.7,289.6 L402.5,290.9 L403.2,292.2 L404.0,293.5 L404.7,294.8 L405.4,296.1 L406.0,297.5 L406.6,298.8 L407.2,300.2 L407.8,301.6 L408.3,303.0 L408.8,304.4 L409.4,305.8 L409.9,307.2 L410.4,308.6 L410.9,310.1 L411.3,311.5 L411.8,312.9 L412.3,314.3 L412.8,315.7 L413.3,317.1 L413.9,318.5 L414.4,320.0 L414.9,321.4 L415.4,322.8 L415.9,324.2 L416.4,325.6 L416.9,327.0 L417.5,328.4 L418.0,329.8 L418.6,331.2 L419.1,332.6 L419.7,334.0 L420.2,335.4 L420.8,336.8 L421.4,338.2 L422.0,339.5 L422.5,340.9 L423.1,342.3 L423.7,343.7 L424.3,345.0 L424.9,346.4 L425.5,347.8 L426.1,349.2 L426.7,350.6 L427.3,351.9 L427.9,353.3 L428.5,354.7 L429.1,356.1 L429.7,357.4 L430.3,358.8 L430.8,360.2 L431.4,361.6 L432.0,363.0 L432.6,364.3 L433.2,365.7 L433.8,367.1 L434.4,368.4 L435.1,369.8 L435.7,371.2 L436.3,372.6 L436.9,373.9 L437.5,375.3 L438.1,376.7 L438.7,378.1 L439.3,379.4 L439.9,380.8 L440.5,382.2 L441.1,383.5 L441.8,384.9 L442.4,386.2 L443.1,387.6 L443.8,388.9 L444.5,390.2 L445.2,391.6 L445.9,392.9 L446.6,394.2 L447.4,395.5 L448.1,396.8 L448.8,398.1 L449.6,399.4 L450.3,400.7 L451.1,402.0 L451.8,403.3 L452.6,404.6 L453.3,405.9 L454.1,407.2 L454.8,408.5 L455.6,409.8 L456.3,411.1 L457.1,412.4 L457.8,413.7 L458.6,415.0 L459.3,416.3 L460.0,417.6 L460.7,418.9 L461.5,420.3 L462.2,421.6 L462.9,422.9 L463.6,424.2 L464.3,425.6 L465.0,426.9 L465.7,428.2 L466.4,429.5 L467.1,430.8 L467.9,432.1 L468.7,433.4 L469.5,434.7 L470.3,435.9 L471.2,437.1 L472.1,438.3 L473.1,439.4 L474.1,440.5 L475.2,441.4 L476.4,442.4 L477.6,443.2 L478.8,444.1 L480.1,444.9 L481.3,445.7 L482.6,446.5 L483.8,447.4 L485.0,448.3 L486.1,449.2 L487.2,450.2 L488.3,451.2 L489.4,452.3 L490.5,453.3 L491.5,454.4 L492.6,455.5 L493.6,456.6 L494.6,457.6 L495.7,458.7 L496.7,459.8 L497.8,460.9 L498.8,461.9 L499.9,463.0 L501.0,464.0 L502.1,465.0 L503.2,466.0 L504.4,467.0 L505.5,468.0 L506.7,468.9 L507.9,469.8 L509.0,470.7 L510.2,471.6 L511.4,472.5 L512.6,473.4 L513.8,474.4 L515.0,475.3 L516.2,476.2 L517.4,477.1 L518.5,478.1 L519.6,479.1 L520.8,480.1 L521.8,481.1 L522.9,482.2 L524.0,483.2 L525.0,484.3 L526.0,485.4 L527.0,486.5 L528.0,487.7 L529.0,488.8 L529.9,489.9 L530.9,491.1 L531.9,492.2 L532.8,493.4 L533.8,494.5 L534.8,495.7 L535.8,496.8 L536.8,497.9 L537.8,499.0 L538.8,500.1 L539.9,501.2 L540.9,502.3 L542.0,503.3 L543.0,504.4 L544.1,505.5 L545.1,506.5 L546.2,507.6 L547.3,508.6 L548.4,509.7 L549.4,510.7 L550.5,511.7 L551.6,512.7 L552.8,513.7 L553.9,514.7 L555.0,515.7 L556.2,516.6 L557.4,517.6 L558.5,518.5 L559.7,519.4 L561.0,520.2 L562.2,521.0 L563.5,521.8 L564.8,522.6 L566.1,523.3 L567.5,524.0 L568.8,524.6 L570.2,525.2 L571.6,525.8 L572.9,526.3 L574.3,526.9 L575.7,527.5 L577.1,528.0 L578.5,528.6 L579.9,529.1 L581.3,529.7 L582.7,530.3 L584.0,530.9 L585.4,531.5 L586.8,532.1 L588.1,532.8 L589.5,533.4 L590.9,534.0 L592.2,534.7 L593.6,535.3 L594.9,535.9 L596.3,536.6 L597.7,537.2 L599.0,537.8 L600.4,538.4 L601.8,539.1 L603.1,539.7 L604.5,540.3 L605.9,540.9 L607.2,541.5 L608.6,542.1 L610.0,542.7 L611.4,543.3 L612.7,543.9 L614.1,544.5 L615.5,545.1 L616.9,545.7 L618.3,546.2 L619.6,546.8 L621.0,547.4 L622.4,548.0 L623.8,548.5 L625.2,549.1 L626.6,549.7 L628.0,550.2 L629.4,550.8 L630.7,551.4 L632.1,551.9 L633.5,552.5 L634.9,553.1 L636.3,553.7 L637.7,554.2 L639.1,554.8 L640.5,555.4 L641.8,555.9 L643.2,556.5 L644.6,557.0 L646.0,557.6 L647.4,558.2 L648.8,558.7 L650.2,559.3 L651.6,559.9 L652.9,560.5 L654.3,561.1 L655.7,561.7 L657.1,562.3 L658.4,562.9 L659.8,563.5 L661.2,564.1 L662.5,564.7 L663.9,565.4 L665.3,566.0 L666.6,566.7 L668.0,567.3 L669.3,568.0 L670.7,568.6 L672.0,569.3 L673.3,570.0 L674.7,570.6 L676.0,571.3 L677.4,572.0 L678.7,572.7 L680.0,573.4 L681.3,574.1 L682.7,574.8 L684.0,575.5 L685.3,576.2 L686.6,577.0 L687.9,577.7 L689.2,578.4 L690.5,579.2 L691.8,579.9 L693.1,580.7 L694.4,581.5 L695.7,582.3 L696.9,583.0 L698.2,583.8 L699.5,584.6 L700.8,585.4 L702.1,586.2 L703.3,587.0 L704.6,587.8 L705.9,588.5 L707.2,589.3 L708.5,590.1 L709.8,590.8 L711.1,591.6 L712.3,592.4 L713.6,593.1 L714.9,593.9 L716.2,594.7 L717.5,595.4 L718.8,596.2 L720.1,596.9 L721.4,597.7 L722.7,598.4 L724.0,599.2 L725.3,599.9 L726.6,600.6 L727.9,601.4 L729.2,602.1 L730.6,602.8 L731.9,603.5 L733.2,604.3 L734.5,605.0 L735.8,605.7 L737.2,606.4 L738.5,607.1 L739.8,607.8 L741.1,608.5 L742.4,609.2 L743.8,609.9 L745.1,610.6 L746.4,611.3 L747.8,612.0 L749.1,612.7 L750.4,613.4 L751.7,614.1 L753.1,614.8 L754.4,615.5 L755.7,616.2 L757.1,616.9 L758.4,617.6 L759.7,618.3 L761.1,618.9 L762.4,619.6 L763.7,620.3 L765.1,621.0 L766.4,621.7 L767.7,622.4 L769.1,623.0 L770.4,623.7 L771.8,624.3 L773.1,625.0 L774.5,625.6 L775.8,626.3 L777.2,626.9 L778.6,627.5 L779.9,628.1 L781.3,628.7 L782.7,629.3 L784.1,629.9 L785.4,630.5 L786.8,631.1 L788.2,631.7 L789.6,632.3 L791.0,632.8 L792.4,633.4 L793.7,634.0 L795.1,634.5 L796.5,635.1 L797.9,635.6 L799.3,636.1 L800.8,636.6 L802.2,637.1 L803.6,637.6 L805.0,638.1 L806.5,638.5 L807.9,638.9 L809.4,639.2 L810.8,639.5 L812.3,639.8 L813.8,640.0 L815.3,640.1 L816.7,640.3 L818.2,640.3 L819.7,640.4 L821.2,640.4 L822.7,640.5 L824.2,640.5 L825.7,640.6 L827.2,640.7 L828.7,640.8 L830.2,641.0 L831.7,641.3 L833.1,641.6 L834.6,641.9 L836.0,642.3 L837.4,642.8 L838.9,643.2 L840.3,643.7 L841.7,644.2 L843.1,644.8 L844.5,645.3 L845.9,645.8 L847.3,646.4 L848.7,646.9 L850.1,647.5 L851.5,648.0 L852.9,648.5 L854.3,649.0 L855.7,649.5 L857.1,650.0 L858.6,650.4 L860.0,650.9 L861.5,651.3 L862.9,651.7 L864.3,652.1 L865.8,652.5 L867.3,652.8 L868.7,653.2 L870.2,653.5 L871.6,653.8 L873.1,654.2 L874.6,654.5 L876.0,654.8 L877.5,655.1 L879.0,655.4 L880.4,655.7 L881.9,656.1 L883.4,656.4 L884.8,656.7 L886.3,657.0 L887.8,657.3 L889.2,657.6 L890.7,657.9 L892.2,658.2 L893.6,658.5 L895.1,658.8 L896.6,659.1 L898.0,659.4 L899.5,659.7 L901.0,660.0 L902.5,660.3 L903.9,660.5 L905.4,660.8 L906.9,661.0 L908.4,661.3 L909.9,661.5 L911.4,661.7 L912.8,661.9 L914.3,662.1 L915.8,662.3 L917.3,662.5 L918.8,662.6 L920.3,662.8 L921.8,663.0 L923.3,663.2 L924.7,663.4 L926.2,663.6 L927.7,663.8 L929.2,664.0 L930.7,664.3 L932.2,664.5 L933.6,664.8 L935.1,665.1 L936.6,665.4 L938.0,665.7 L939.5,666.0 L941.0,666.3 L942.5,666.6 L943.9,666.9 L945.4,667.2 L946.9,667.5 L948.3,667.8 L949.8,668.1 L951.3,668.4 L952.7,668.7 L954.2,669.0 L955.7,669.3 L957.2,669.5 L958.6,669.8 L960.1,670.1 L961.6,670.3 L963.1,670.6 L964.5,670.8 L966.0,671.1 L967.5,671.3 L969.0,671.5 L970.5,671.8 L971.9,672.0 L973.4,672.2 L974.9,672.5 L976.4,672.7 L977.9,672.9 L979.4,673.2 L980.8,673.4 L982.3,673.6 L983.8,673.8 L985.3,674.1 L986.8,674.3 L988.3,674.5 L989.7,674.7 L991.2,675.0 L992.7,675.2 L994.2,675.4 L995.7,675.6 L997.2,675.8 L998.6,676.0 L1000.1,676.3 L1001.6,676.5 L1003.1,676.7 L1004.6,676.9 L1006.1,677.1 L1007.5,677.4 L1009.0,677.6 L1010.5,677.8 L1012.0,678.0 L1013.5,678.2 L1015.0,678.5 L1015.0,678.5" stroke="#fdc210"/>
<path d="M133.0,613.0 L133.3,611.5 L133.5,610.0 L133.8,608.6 L134.0,607.1 L134.3,605.6 L134.6,604.1 L134.9,602.7 L135.2,601.2 L135.6,599.8 L135.9,598.3 L136.3,596.8 L136.6,595.4 L137.0,593.9 L137.3,592.5 L137.7,591.0 L138.0,589.6 L138.4,588.1 L138.7,586.6 L139.1,585.2 L139.4,583.7 L139.7,582.2 L140.0,580.8 L140.3,579.3 L140.6,577.8 L140.9,576.4 L141.2,574.9 L141.5,573.4 L141.8,571.9 L142.1,570.5 L142.4,569.0 L142.6,567.5 L142.9,566.1 L143.2,564.6 L143.5,563.1 L143.8,561.6 L144.0,560.2 L144.3,558.7 L144.6,557.2 L144.9,555.7 L145.2,554.3 L145.4,552.8 L145.7,551.3 L146.0,549.8 L146.3,548.4 L146.6,546.9 L146.9,545.4 L147.2,544.0 L147.5,542.5 L147.8,541.0 L148.1,539.6 L148.4,538.1 L148.8,536.6 L149.1,535.2 L149.5,533.7 L149.8,532.3 L150.2,530.8 L150.5,529.3 L150.9,527.9 L151.3,526.4 L151.7,525.0 L152.0,523.5 L152.4,522.1 L152.8,520.6 L153.1,519.2 L153.5,517.7 L153.8,516.2 L154.1,514.8 L154.5,513.3 L154.8,511.9 L155.1,510.4 L155.4,508.9 L155.7,507.5 L156.0,506.0 L156.3,504.5 L156.6,503.0 L156.9,501.6 L157.2,500.1 L157.4,498.6 L157.7,497.1 L158.0,495.7 L158.3,494.2 L158.5,492.7 L158.8,491.2 L159.1,489.8 L159.3,488.3 L159.6,486.8 L159.9,485.3 L160.1,483.9 L160.4,482.4 L160.7,480.9 L160.9,479.4 L161.2,478.0 L161.4,476.5 L161.7,475.0 L162.0,473.5 L162.3,472.1 L162.5,470.6 L162.8,469.1 L163.1,467.6 L163.3,466.2 L163.6,464.7 L163.9,463.2 L164.2,461.7 L164.5,460.3 L164.8,458.8 L165.1,457.3 L165.4,455.8 L165.7,454.4 L166.0,452.9 L166.3,451.4 L166.6,450.0 L166.9,448.5 L167.2,447.0 L167.5,445.6 L167.8,444.1 L168.1,442.6 L168.5,441.2 L168.8,439.7 L169.1,438.2 L169.4,436.8 L169.8,435.3 L170.1,433.8 L170.4,432.4 L170.7,430.9 L171.1,429.5 L171.4,428.0 L171.7,426.5 L172.0,425.1 L172.4,423.6 L172.7,422.1 L173.0,420.7 L173.3,419.2 L173.7,417.7 L174.0,416.3 L174.3,414.8 L174.7,413.4 L175.0,411.9 L175.3,410.4 L175.6,409.0 L175.9,407.5 L176.3,406.0 L176.6,404.6 L176.9,403.1 L177.2,401.6 L177.5,400.2 L177.8,398.7 L178.2,397.2 L178.5,395.8 L178.8,394.3 L179.1,392.8 L179.5,391.4 L179.8,389.9 L180.2,388.5 L180.6,387.0 L181.1,385.6 L181.5,384.2 L182.1,382.8 L182.7,381.5 L183.2,380.1 L183.8,378.7 L184.3,377.3 L184.8,375.9 L185.3,374.5 L185.7,373.1 L186.1,371.6 L186.5,370.2 L186.9,368.7 L187.2,367.3 L187.6,365.8 L188.0,364.4 L188.4,362.9 L188.8,361.5 L189.2,360.1 L189.6,358.6 L190.1,357.2 L190.5,355.7 L190.9,354.3 L191.4,352.9 L191.9,351.5 L192.3,350.0 L192.8,348.6 L193.3,347.2 L193.7,345.8 L194.2,344.3 L194.7,342.9 L195.2,341.5 L195.7,340.1 L196.2,338.7 L196.8,337.3 L197.3,335.9 L197.8,334.5 L198.3,333.1 L198.9,331.7 L199.4,330.3 L200.0,328.9 L200.5,327.5 L201.1,326.1 L201.6,324.7 L202.2,323.3 L202.8,321.9 L203.4,320.6 L204.1,319.2 L204.7,317.9 L205.4,316.5 L206.1,315.2 L206.8,313.9 L207.6,312.6 L208.3,311.3 L209.1,310.0 L209.9,308.8 L210.8,307.5 L211.6,306.3 L212.5,305.1 L213.3,303.8 L214.2,302.6 L215.1,301.4 L216.0,300.2 L216.9,299.0 L217.8,297.8 L218.8,296.7 L219.7,295.5 L220.7,294.3 L221.6,293.2 L222.6,292.0 L223.5,290.9 L224.5,289.7 L225.4,288.5 L226.3,287.3 L227.1,286.1 L227.9,284.8 L228.7,283.6 L229.5,282.3 L230.2,281.0 L231.0,279.7 L231.6,278.3 L232.3,277.0 L233.0,275.6 L233.6,274.3 L234.2,272.9 L234.8,271.5 L235.5,270.2 L236.1,268.8 L236.7,267.4 L237.3,266.1 L238.0,264.7 L238.6,263.4 L239.3,262.0 L240.0,260.7 L240.7,259.4 L241.4,258.1 L242.2,256.8 L243.0,255.5 L243.8,254.3 L244.6,253.0 L245.5,251.8 L246.3,250.5 L247.2,249.3 L248.0,248.1 L248.9,246.8 L249.7,245.6 L250.6,244.4 L251.4,243.1 L252.2,241.9 L253.0,240.6 L253.7,239.3 L254.5,238.0 L255.2,236.7 L255.9,235.3 L256.5,234.0 L257.2,232.6 L257.8,231.3 L258.5,229.9 L259.1,228.6 L259.8,227.2 L260.5,225.9 L261.1,224.5 L261.8,223.2 L262.5,221.9 L263.1,220.5 L263.8,219.2 L264.5,217.9 L265.2,216.5 L265.9,215.2 L266.6,213.9 L267.3,212.6 L268.1,211.3 L268.8,210.0 L269.6,208.7 L270.4,207.4 L271.3,206.2 L272.2,205.0 L273.1,203.9 L274.2,202.9 L275.3,201.9 L276.5,201.1 L277.7,200.4 L279.0,199.7 L280.4,199.3 L281.8,198.9 L283.3,198.7 L284.7,198.5 L286.2,198.6 L287.6,198.7 L289.1,198.9 L290.5,199.2 L291.9,199.6 L293.3,200.1 L294.7,200.7 L296.0,201.3 L297.3,202.1 L298.5,202.9 L299.6,203.8 L300.7,204.8 L301.8,205.9 L302.8,207.0 L303.8,208.1 L304.7,209.3 L305.6,210.5 L306.5,211.7 L307.3,212.9 L308.2,214.1 L309.0,215.4 L309.8,216.7 L310.6,217.9 L311.4,219.2 L312.2,220.5 L312.9,221.8 L313.7,223.1 L314.5,224.3 L315.3,225.6 L316.0,226.9 L316.8,228.2 L317.6,229.5 L318.3,230.8 L319.1,232.1 L319.9,233.4 L320.6,234.6 L321.4,235.9 L322.2,237.2 L323.0,238.5 L323.7,239.8 L324.5,241.1 L325.3,242.4 L326.0,243.6 L326.8,244.9 L327.6,246.2 L328.4,247.5 L329.1,248.8 L329.9,250.1 L330.7,251.4 L331.5,252.6 L332.3,253.9 L333.1,255.2 L333.9,256.4 L334.7,257.7 L335.5,258.9 L336.3,260.2 L337.2,261.4 L338.0,262.7 L338.8,263.9 L339.7,265.2 L340.5,266.4 L341.4,267.7 L342.2,268.9 L343.1,270.1 L343.9,271.3 L344.8,272.5 L345.7,273.7 L346.5,274.8 L347.4,275.9 L348.4,276.9 L349.3,277.9 L350.3,278.8 L351.2,279.8 L352.2,280.9 L353.2,281.9 L354.1,283.0 L355.1,284.1 L356.1,285.3 L357.0,286.5 L357.9,287.6 L358.8,288.8 L359.7,290.0 L360.6,291.2 L361.5,292.5 L362.4,293.7 L363.2,294.9 L364.0,296.2 L364.9,297.4 L365.7,298.7 L366.5,299.9 L367.3,301.2 L368.1,302.5 L368.8,303.8 L369.6,305.1 L370.3,306.4 L371.1,307.7 L371.8,309.0 L372.5,310.3 L373.2,311.6 L373.9,313.0 L374.6,314.3 L375.4,315.6 L376.1,316.9 L376.9,318.2 L377.7,319.4 L378.5,320.7 L379.3,322.0 L380.1,323.2 L381.0,324.4 L381.9,325.7 L382.7,326.9 L383.6,328.1 L384.5,329.3 L385.3,330.5 L386.2,331.8 L387.1,333.0 L388.0,334.2 L388.9,335.4 L389.8,336.6 L390.7,337.8 L391.6,339.0 L392.4,340.2 L393.3,341.4 L394.2,342.6 L395.1,343.9 L396.0,345.1 L396.9,346.3 L397.7,347.5 L398.6,348.7 L399.5,349.9 L400.4,351.2 L401.2,352.4 L402.1,353.6 L403.0,354.8 L403.8,356.1 L404.7,357.3 L405.5,358.5 L406.4,359.8 L407.2,361.0 L408.0,362.3 L408.9,363.5 L409.7,364.8 L410.5,366.0 L411.4,367.2 L412.2,368.5 L413.0,369.7 L413.9,371.0 L414.7,372.2 L415.5,373.5 L416.3,374.8 L417.1,376.0 L417.8,377.3 L418.6,378.6 L419.3,380.0 L420.0,381.3 L420.7,382.6 L421.4,383.9 L422.1,385.3 L422.7,386.6 L423.4,388.0 L424.1,389.3 L424.8,390.6 L425.4,392.0 L426.1,393.3 L426.8,394.7 L427.4,396.0 L428.1,397.4 L428.8,398.7 L429.5,400.0 L430.2,401.4 L430.8,402.7 L431.5,404.0 L432.3,405.3 L433.0,406.7 L433.7,408.0 L434.4,409.3 L435.1,410.6 L435.9,411.9 L436.6,413.2 L437.4,414.5 L438.1,415.8 L438.9,417.1 L439.6,418.4 L440.4,419.7 L441.2,421.0 L441.9,422.3 L442.7,423.6 L443.5,424.9 L444.2,426.1 L445.0,427.4 L445.8,428.7 L446.5,430.0 L447.3,431.3 L448.1,432.6 L448.8,433.9 L449.6,435.2 L450.3,436.5 L451.1,437.8 L451.8,439.1 L452.6,440.4 L453.3,441.7 L454.0,443.0 L454.7,444.3 L455.5,445.6 L456.2,446.9 L457.0,448.2 L457.8,449.5 L458.6,450.8 L459.4,452.0 L460.2,453.3 L461.0,454.6 L461.8,455.8 L462.6,457.1 L463.4,458.3 L464.2,459.6 L465.0,460.9 L465.8,462.1 L466.7,463.4 L467.5,464.6 L468.3,465.9 L469.2,467.1 L470.0,468.4 L470.8,469.6 L471.7,470.8 L472.5,472.1 L473.4,473.3 L474.3,474.5 L475.1,475.7 L476.0,477.0 L476.9,478.2 L477.8,479.4 L478.7,480.6 L479.6,481.8 L480.5,483.0 L481.4,484.1 L482.4,485.3 L483.3,486.5 L484.2,487.7 L485.2,488.8 L486.1,490.0 L487.1,491.1 L488.1,492.3 L489.1,493.4 L490.1,494.5 L491.1,495.6 L492.1,496.7 L493.1,497.8 L494.2,498.9 L495.2,499.9 L496.3,501.0 L497.4,502.0 L498.5,503.1 L499.6,504.1 L500.7,505.1 L501.8,506.1 L503.0,507.1 L504.1,508.0 L505.2,509.0 L506.4,510.0 L507.6,510.9 L508.7,511.8 L509.9,512.8 L511.1,513.7 L512.3,514.6 L513.5,515.5 L514.7,516.4 L515.9,517.3 L517.1,518.2 L518.3,519.1 L519.5,519.9 L520.8,520.8 L522.0,521.6 L523.3,522.4 L524.6,523.2 L525.8,524.0 L527.1,524.8 L528.4,525.5 L529.7,526.3 L531.0,527.1 L532.3,527.8 L533.6,528.6 L534.9,529.3 L536.2,530.1 L537.4,530.9 L538.7,531.7 L540.0,532.4 L541.3,533.2 L542.5,534.0 L543.8,534.8 L545.1,535.7 L546.3,536.5 L547.6,537.3 L548.9,538.1 L550.1,538.9 L551.4,539.7 L552.6,540.6 L553.9,541.4 L555.1,542.2 L556.4,543.0 L557.6,543.9 L558.9,544.7 L560.1,545.6 L561.3,546.4 L562.6,547.3 L563.8,548.1 L565.0,549.0 L566.2,549.9 L567.4,550.7 L568.7,551.6 L569.9,552.5 L571.1,553.4 L572.3,554.3 L573.5,555.2 L574.7,556.0 L576.0,556.9 L577.2,557.7 L578.5,558.6 L579.7,559.4 L581.0,560.1 L582.3,560.9 L583.6,561.6 L584.9,562.3 L586.3,563.0 L587.6,563.6 L589.0,564.2 L590.4,564.8 L591.8,565.4 L593.2,565.9 L594.6,566.5 L596.0,567.0 L597.4,567.5 L598.8,568.0 L600.2,568.5 L601.6,569.0 L603.0,569.5 L604.5,569.9 L605.9,570.4 L607.3,570.8 L608.8,571.2 L610.2,571.7 L611.7,572.1 L613.1,572.4 L614.6,572.8 L616.0,573.2 L617.4,573.6 L618.9,574.1 L620.3,574.5 L621.7,575.0 L623.1,575.5 L624.5,576.0 L625.9,576.6 L627.3,577.1 L628.7,577.7 L630.0,578.4 L631.4,579.0 L632.7,579.7 L634.1,580.4 L635.4,581.0 L636.7,581.7 L638.1,582.4 L639.4,583.1 L640.7,583.8 L642.1,584.5 L643.4,585.2 L644.7,585.9 L646.1,586.6 L647.4,587.3 L648.7,587.9 L650.1,588.6 L651.5,589.2 L652.8,589.8 L654.2,590.5 L655.6,591.1 L656.9,591.7 L658.3,592.3 L659.7,592.8 L661.1,593.4 L662.5,594.0 L663.8,594.6 L665.2,595.1 L666.6,595.7 L668.0,596.2 L669.4,596.8 L670.8,597.4 L672.2,597.9 L673.6,598.5 L675.0,599.1 L676.4,599.6 L677.7,600.2 L679.1,600.8 L680.5,601.4 L681.9,602.0 L683.3,602.6 L684.6,603.2 L686.0,603.7 L687.4,604.3 L688.8,604.9 L690.2,605.5 L691.5,606.1 L692.9,606.7 L694.3,607.3 L695.7,607.8 L697.1,608.4 L698.5,608.9 L699.9,609.5 L701.3,610.0 L702.7,610.5 L704.1,611.0 L705.5,611.5 L706.9,612.0 L708.4,612.4 L709.8,612.8 L711.3,613.3 L712.7,613.7 L714.1,614.1 L715.6,614.5 L717.0,614.9 L718.4,615.4 L719.9,615.8 L721.3,616.3 L722.7,616.8 L724.1,617.3 L725.5,617.9 L726.9,618.5 L728.2,619.1 L729.6,619.8 L730.9,620.4 L732.3,621.1 L733.6,621.8 L734.9,622.6 L736.2,623.3 L737.5,624.0 L738.8,624.8 L740.1,625.5 L741.4,626.3 L742.7,627.0 L744.0,627.8 L745.3,628.5 L746.6,629.2 L748.0,629.9 L749.3,630.5 L750.7,631.2 L752.0,631.8 L753.4,632.4 L754.8,633.0 L756.2,633.5 L757.6,634.1 L759.0,634.6 L760.4,635.1 L761.8,635.5 L763.3,636.0 L764.7,636.4 L766.1,636.9 L767.6,637.3 L769.0,637.7 L770.5,638.1 L771.9,638.4 L773.4,638.8 L774.8,639.2 L776.3,639.5 L777.7,639.9 L779.2,640.2 L780.7,640.5 L782.1,640.8 L783.6,641.1 L785.1,641.3 L786.6,641.6 L788.1,641.8 L789.6,642.0 L791.0,642.2 L792.5,642.4 L794.0,642.6 L795.5,642.8 L797.0,643.0 L798.5,643.3 L799.9,643.5 L801.4,643.8 L802.9,644.1 L804.3,644.4 L805.8,644.8 L807.3,645.1 L808.7,645.5 L810.1,645.9 L811.6,646.3 L813.0,646.8 L814.4,647.2 L815.9,647.7 L817.3,648.2 L818.7,648.6 L820.1,649.1 L821.6,649.6 L823.0,650.1 L824.4,650.5 L825.8,651.0 L827.3,651.5 L828.7,651.9 L830.1,652.4 L831.6,652.8 L833.0,653.3 L834.4,653.7 L835.9,654.1 L837.3,654.5 L838.8,654.8 L840.2,655.2 L841.7,655.5 L843.2,655.9 L844.6,656.2 L846.1,656.5 L847.6,656.8 L849.0,657.1 L850.5,657.3 L852.0,657.6 L853.5,657.8 L854.9,658.1 L856.4,658.3 L857.9,658.5 L859.4,658.8 L860.9,659.0 L862.4,659.2 L863.8,659.4 L865.3,659.6 L866.8,659.8 L868.3,660.0 L869.8,660.3 L871.3,660.5 L872.8,660.7 L874.2,660.9 L875.7,661.1 L877.2,661.3 L878.7,661.5 L880.2,661.7 L881.7,661.9 L883.2,662.1 L884.6,662.3 L886.1,662.5 L887.6,662.7 L889.1,662.9 L890.6,663.1 L892.1,663.3 L893.6,663.4 L895.1,663.6 L896.5,663.8 L898.0,664.0 L899.5,664.2 L901.0,664.5 L902.5,664.7 L904.0,665.0 L905.4,665.3 L906.9,665.6 L908.3,665.9 L909.8,666.3 L911.2,666.7 L912.7,667.1 L914.1,667.5 L915.5,668.0 L917.0,668.5 L918.4,669.0 L919.8,669.4 L921.2,669.9 L922.7,670.4 L924.1,670.8 L925.5,671.2 L927.0,671.6 L928.4,672.0 L929.9,672.3 L931.4,672.6 L932.8,672.9 L934.3,673.1 L935.8,673.3 L937.3,673.5 L938.8,673.7 L940.2,673.9 L941.7,674.1 L943.2,674.2 L944.7,674.3 L946.2,674.5 L947.7,674.6 L949.2,674.7 L950.7,674.8 L952.2,674.9 L953.7,675.0 L955.2,675.1 L956.7,675.2 L958.2,675.3 L959.7,675.4 L961.2,675.5 L962.7,675.6 L964.2,675.7 L965.7,675.9 L967.2,676.0 L968.7,676.1 L970.2,676.2 L971.7,676.3 L973.1,676.4 L974.6,676.6 L976.1,676.7 L977.6,676.8 L979.1,677.0 L980.6,677.1 L982.1,677.3 L983.6,677.4 L985.1,677.5 L986.6,677.7 L988.1,677.8 L989.6,678.0 L991.1,678.1 L992.6,678.3 L994.1,678.4 L995.5,678.6 L997.0,678.7 L998.5,678.8 L1000.0,679.0 L1001.5,679.1 L1003.0,679.3 L1004.5,679.4 L1006.0,679.6 L1007.5,679.7 L1009.0,679.9 L1010.5,680.0 L1012.0,680.2 L1013.5,680.3 L1015.0,680.5 L1015.0,680.5" stroke="#39c46e"/>
<path d="M133.0,614.0 L133.3,612.5 L133.5,611.0 L133.8,609.6 L134.1,608.1 L134.4,606.6 L134.7,605.2 L135.0,603.7 L135.3,602.2 L135.7,600.8 L136.0,599.3 L136.4,597.9 L136.8,596.4 L137.1,595.0 L137.5,593.5 L137.9,592.0 L138.2,590.6 L138.6,589.1 L138.9,587.7 L139.3,586.2 L139.6,584.7 L139.9,583.3 L140.2,581.8 L140.6,580.4 L140.9,578.9 L141.2,577.4 L141.5,575.9 L141.8,574.5 L142.1,573.0 L142.4,571.5 L142.7,570.1 L143.0,568.6 L143.3,567.1 L143.6,565.7 L143.9,564.2 L144.2,562.7 L144.5,561.2 L144.8,559.8 L145.1,558.3 L145.4,556.8 L145.7,555.4 L146.0,553.9 L146.3,552.4 L146.6,551.0 L146.9,549.5 L147.2,548.0 L147.5,546.6 L147.9,545.1 L148.2,543.6 L148.5,542.2 L148.9,540.7 L149.2,539.3 L149.6,537.8 L149.9,536.3 L150.3,534.9 L150.7,533.4 L151.1,532.0 L151.5,530.6 L152.0,529.1 L152.4,527.7 L152.8,526.2 L153.2,524.8 L153.7,523.4 L154.1,521.9 L154.5,520.5 L154.9,519.1 L155.3,517.6 L155.7,516.2 L156.1,514.7 L156.5,513.3 L156.8,511.8 L157.2,510.3 L157.5,508.9 L157.9,507.4 L158.2,506.0 L158.5,504.5 L158.8,503.0 L159.1,501.6 L159.4,500.1 L159.7,498.6 L160.0,497.1 L160.3,495.7 L160.6,494.2 L160.9,492.7 L161.2,491.3 L161.5,489.8 L161.8,488.3 L162.0,486.8 L162.3,485.4 L162.6,483.9 L162.9,482.4 L163.2,480.9 L163.4,479.5 L163.7,478.0 L164.0,476.5 L164.3,475.1 L164.6,473.6 L164.9,472.1 L165.1,470.6 L165.4,469.2 L165.7,467.7 L166.0,466.2 L166.3,464.7 L166.6,463.3 L166.9,461.8 L167.2,460.3 L167.5,458.9 L167.7,457.4 L168.0,455.9 L168.3,454.5 L168.7,453.0 L169.0,451.5 L169.3,450.0 L169.6,448.6 L169.9,447.1 L170.2,445.6 L170.5,444.2 L170.8,442.7 L171.1,441.2 L171.4,439.8 L171.7,438.3 L172.0,436.8 L172.3,435.4 L172.6,433.9 L172.9,432.4 L173.3,431.0 L173.6,429.5 L173.9,428.0 L174.2,426.6 L174.5,425.1 L174.8,423.6 L175.1,422.2 L175.5,420.7 L175.8,419.2 L176.1,417.8 L176.4,416.3 L176.7,414.8 L177.1,413.4 L177.4,411.9 L177.7,410.4 L178.0,409.0 L178.4,407.5 L178.7,406.0 L179.0,404.6 L179.4,403.1 L179.7,401.7 L180.1,400.2 L180.4,398.7 L180.8,397.3 L181.1,395.8 L181.5,394.4 L181.9,392.9 L182.2,391.5 L182.6,390.0 L183.0,388.6 L183.4,387.1 L183.9,385.7 L184.3,384.3 L184.7,382.8 L185.2,381.4 L185.7,380.0 L186.2,378.6 L186.7,377.2 L187.2,375.8 L187.8,374.4 L188.3,372.9 L188.8,371.5 L189.3,370.1 L189.7,368.7 L190.2,367.3 L190.6,365.8 L191.1,364.4 L191.5,363.0 L191.9,361.5 L192.3,360.1 L192.7,358.6 L193.2,357.2 L193.6,355.8 L194.0,354.3 L194.5,352.9 L194.9,351.5 L195.4,350.1 L195.9,348.6 L196.5,347.2 L197.0,345.8 L197.6,344.5 L198.2,343.1 L198.8,341.7 L199.5,340.4 L200.1,339.0 L200.8,337.7 L201.6,336.4 L202.3,335.1 L203.1,333.9 L204.0,332.6 L204.8,331.4 L205.7,330.2 L206.7,329.0 L207.6,327.9 L208.6,326.8 L209.6,325.7 L210.7,324.6 L211.8,323.5 L212.8,322.5 L213.9,321.5 L215.0,320.4 L216.1,319.4 L217.2,318.4 L218.3,317.3 L219.4,316.3 L220.5,315.3 L221.6,314.3 L222.7,313.3 L223.8,312.2 L224.8,311.2 L225.9,310.2 L227.0,309.1 L228.0,308.0 L229.0,306.9 L229.9,305.7 L230.7,304.5 L231.6,303.2 L232.3,302.0 L233.1,300.7 L233.8,299.3 L234.5,298.0 L235.1,296.7 L235.8,295.3 L236.4,294.0 L237.1,292.6 L237.8,291.3 L238.5,290.0 L239.2,288.7 L240.0,287.4 L240.8,286.1 L241.6,284.8 L242.4,283.6 L243.3,282.4 L244.1,281.1 L245.0,279.9 L245.9,278.7 L246.8,277.5 L247.7,276.3 L248.5,275.1 L249.4,273.9 L250.3,272.6 L251.1,271.4 L252.0,270.2 L252.8,268.9 L253.6,267.6 L254.4,266.4 L255.2,265.1 L255.9,263.8 L256.7,262.5 L257.4,261.2 L258.1,259.9 L258.8,258.5 L259.5,257.2 L260.2,255.9 L260.9,254.6 L261.6,253.2 L262.3,251.9 L263.0,250.6 L263.7,249.2 L264.4,247.9 L265.1,246.6 L265.8,245.3 L266.5,244.0 L267.2,242.6 L268.0,241.3 L268.7,240.0 L269.4,238.7 L270.1,237.4 L270.9,236.1 L271.6,234.8 L272.4,233.5 L273.2,232.2 L274.0,231.0 L274.9,229.8 L275.9,228.8 L277.0,227.7 L278.1,226.8 L279.3,226.0 L280.6,225.3 L281.9,224.7 L283.2,224.3 L284.6,224.1 L286.0,224.1 L287.3,224.3 L288.7,224.7 L290.0,225.1 L291.4,225.7 L292.7,226.4 L294.0,227.1 L295.2,227.9 L296.4,228.7 L297.6,229.6 L298.7,230.6 L299.8,231.7 L300.8,232.8 L301.8,233.9 L302.7,235.0 L303.6,236.2 L304.5,237.4 L305.4,238.6 L306.2,239.9 L307.1,241.1 L307.9,242.4 L308.7,243.6 L309.6,244.9 L310.4,246.1 L311.2,247.4 L312.0,248.6 L312.9,249.9 L313.7,251.1 L314.5,252.4 L315.4,253.6 L316.2,254.9 L317.0,256.1 L317.8,257.4 L318.6,258.7 L319.4,259.9 L320.2,261.2 L321.0,262.5 L321.7,263.8 L322.5,265.1 L323.3,266.4 L324.0,267.7 L324.8,268.9 L325.6,270.2 L326.3,271.5 L327.1,272.8 L327.8,274.1 L328.6,275.4 L329.3,276.7 L330.1,278.0 L330.8,279.3 L331.5,280.6 L332.3,281.9 L333.0,283.2 L333.8,284.5 L334.6,285.8 L335.4,287.1 L336.2,288.4 L337.0,289.6 L337.8,290.9 L338.6,292.1 L339.5,293.4 L340.3,294.6 L341.2,295.8 L342.1,297.0 L342.9,298.3 L343.8,299.5 L344.7,300.7 L345.6,301.9 L346.4,303.1 L347.3,304.3 L348.2,305.5 L349.1,306.7 L350.0,308.0 L350.9,309.2 L351.8,310.3 L352.7,311.5 L353.6,312.7 L354.6,313.9 L355.5,315.1 L356.4,316.3 L357.4,317.4 L358.3,318.6 L359.3,319.8 L360.2,320.9 L361.2,322.0 L362.2,323.2 L363.2,324.3 L364.1,325.4 L365.1,326.6 L366.1,327.7 L367.1,328.8 L368.1,330.0 L369.1,331.1 L370.1,332.2 L371.1,333.3 L372.1,334.5 L373.0,335.6 L374.0,336.7 L375.0,337.9 L375.9,339.1 L376.9,340.2 L377.8,341.4 L378.8,342.6 L379.7,343.7 L380.6,344.9 L381.5,346.1 L382.4,347.3 L383.3,348.5 L384.2,349.7 L385.1,350.9 L386.0,352.1 L386.9,353.3 L387.7,354.6 L388.6,355.8 L389.5,357.0 L390.3,358.2 L391.2,359.5 L392.0,360.7 L392.8,362.0 L393.7,363.2 L394.5,364.5 L395.3,365.7 L396.1,367.0 L396.9,368.3 L397.7,369.6 L398.5,370.8 L399.3,372.1 L400.0,373.4 L400.8,374.7 L401.6,376.0 L402.3,377.3 L403.1,378.6 L403.8,379.9 L404.6,381.2 L405.3,382.5 L406.1,383.8 L406.8,385.1 L407.6,386.4 L408.3,387.7 L409.0,389.0 L409.8,390.3 L410.5,391.6 L411.3,392.9 L412.0,394.2 L412.7,395.5 L413.5,396.8 L414.2,398.1 L415.0,399.4 L415.7,400.7 L416.5,402.0 L417.2,403.3 L417.9,404.6 L418.7,405.9 L419.4,407.2 L420.2,408.5 L420.9,409.9 L421.6,411.2 L422.4,412.5 L423.1,413.8 L423.8,415.1 L424.6,416.4 L425.3,417.7 L426.0,419.0 L426.8,420.3 L427.5,421.6 L428.3,422.9 L429.0,424.2 L429.8,425.5 L430.5,426.8 L431.3,428.1 L432.0,429.4 L432.8,430.7 L433.5,432.0 L434.3,433.3 L435.0,434.6 L435.8,435.9 L436.5,437.2 L437.2,438.5 L438.0,439.8 L438.7,441.2 L439.4,442.5 L440.1,443.8 L440.8,445.1 L441.5,446.4 L442.3,447.7 L443.0,449.0 L443.8,450.3 L444.5,451.6 L445.3,452.9 L446.0,454.2 L446.7,455.5 L447.5,456.8 L448.2,458.1 L449.0,459.4 L449.7,460.7 L450.5,462.1 L451.2,463.4 L452.0,464.7 L452.7,466.0 L453.5,467.2 L454.2,468.5 L455.0,469.8 L455.7,471.1 L456.5,472.4 L457.3,473.7 L458.1,475.0 L458.9,476.2 L459.7,477.5 L460.5,478.7 L461.4,480.0 L462.2,481.2 L463.1,482.4 L464.0,483.6 L464.9,484.8 L465.9,486.0 L466.9,487.1 L467.9,488.2 L468.9,489.3 L469.9,490.4 L471.0,491.4 L472.1,492.4 L473.2,493.4 L474.4,494.4 L475.5,495.4 L476.7,496.3 L477.8,497.3 L479.0,498.2 L480.2,499.2 L481.3,500.1 L482.5,501.1 L483.6,502.0 L484.7,503.0 L485.9,504.0 L487.0,505.0 L488.1,506.0 L489.2,507.0 L490.3,508.0 L491.4,509.0 L492.5,510.1 L493.6,511.1 L494.7,512.1 L495.8,513.1 L496.9,514.1 L498.1,515.1 L499.2,516.1 L500.3,517.2 L501.4,518.2 L502.5,519.2 L503.6,520.2 L504.8,521.1 L505.9,522.1 L507.0,523.1 L508.1,524.1 L509.3,525.1 L510.4,526.1 L511.6,527.0 L512.7,528.0 L513.8,529.0 L515.0,530.0 L516.1,530.9 L517.3,531.9 L518.4,532.9 L519.6,533.8 L520.7,534.8 L521.9,535.7 L523.0,536.7 L524.2,537.6 L525.4,538.6 L526.5,539.5 L527.7,540.4 L528.9,541.3 L530.1,542.2 L531.3,543.1 L532.6,544.0 L533.8,544.8 L535.1,545.6 L536.4,546.4 L537.6,547.1 L538.9,547.9 L540.2,548.7 L541.5,549.4 L542.8,550.2 L544.1,551.0 L545.4,551.8 L546.6,552.6 L547.9,553.4 L549.2,554.1 L550.5,554.9 L551.8,555.7 L553.1,556.4 L554.3,557.2 L555.6,558.0 L556.9,558.7 L558.2,559.5 L559.5,560.2 L560.8,561.0 L562.1,561.7 L563.4,562.5 L564.7,563.2 L566.0,564.0 L567.3,564.7 L568.6,565.5 L569.9,566.2 L571.2,567.0 L572.5,567.7 L573.8,568.5 L575.1,569.2 L576.4,569.9 L577.7,570.7 L579.1,571.4 L580.4,572.1 L581.7,572.8 L583.0,573.5 L584.4,574.2 L585.7,574.9 L587.0,575.5 L588.4,576.2 L589.8,576.8 L591.1,577.4 L592.5,578.0 L593.9,578.5 L595.3,579.1 L596.7,579.6 L598.1,580.0 L599.6,580.5 L601.0,580.9 L602.5,581.3 L603.9,581.6 L605.4,582.0 L606.8,582.3 L608.3,582.6 L609.8,583.0 L611.2,583.3 L612.7,583.6 L614.2,583.9 L615.6,584.3 L617.1,584.6 L618.5,585.0 L620.0,585.4 L621.4,585.8 L622.9,586.2 L624.3,586.7 L625.7,587.2 L627.1,587.7 L628.5,588.3 L629.8,588.9 L631.2,589.5 L632.6,590.2 L633.9,590.8 L635.2,591.5 L636.6,592.2 L637.9,592.9 L639.2,593.7 L640.5,594.4 L641.8,595.1 L643.1,595.8 L644.5,596.5 L645.8,597.2 L647.1,597.9 L648.5,598.5 L649.8,599.1 L651.2,599.7 L652.6,600.3 L654.0,600.9 L655.4,601.4 L656.8,601.9 L658.2,602.4 L659.7,602.9 L661.1,603.3 L662.5,603.8 L663.9,604.2 L665.4,604.7 L666.8,605.1 L668.2,605.5 L669.7,606.0 L671.1,606.4 L672.5,606.9 L674.0,607.4 L675.4,607.9 L676.8,608.4 L678.2,608.9 L679.6,609.4 L681.0,610.0 L682.4,610.5 L683.8,611.1 L685.1,611.7 L686.5,612.3 L687.9,612.8 L689.3,613.4 L690.7,614.0 L692.1,614.6 L693.4,615.2 L694.8,615.8 L696.2,616.4 L697.6,617.0 L699.0,617.5 L700.3,618.1 L701.7,618.7 L703.1,619.3 L704.5,619.8 L705.9,620.4 L707.3,620.9 L708.7,621.5 L710.1,622.1 L711.5,622.6 L712.9,623.2 L714.2,623.7 L715.6,624.3 L717.0,624.8 L718.4,625.4 L719.8,626.0 L721.2,626.5 L722.6,627.1 L724.0,627.6 L725.4,628.2 L726.8,628.7 L728.2,629.3 L729.6,629.8 L731.0,630.4 L732.4,630.9 L733.8,631.5 L735.2,632.1 L736.5,632.6 L737.9,633.2 L739.3,633.7 L740.7,634.3 L742.1,634.9 L743.5,635.5 L744.9,636.1 L746.2,636.7 L747.6,637.3 L749.0,637.9 L750.4,638.5 L751.7,639.1 L753.1,639.7 L754.5,640.3 L755.8,640.9 L757.2,641.5 L758.6,642.1 L760.0,642.7 L761.3,643.3 L762.7,643.9 L764.1,644.5 L765.5,645.0 L766.9,645.6 L768.3,646.1 L769.7,646.7 L771.1,647.2 L772.5,647.7 L773.9,648.2 L775.3,648.7 L776.8,649.1 L778.2,649.6 L779.6,650.0 L781.1,650.4 L782.5,650.8 L784.0,651.2 L785.4,651.5 L786.9,651.9 L788.3,652.2 L789.8,652.5 L791.3,652.9 L792.7,653.2 L794.2,653.4 L795.7,653.7 L797.2,654.0 L798.6,654.2 L800.1,654.5 L801.6,654.7 L803.1,655.0 L804.6,655.2 L806.1,655.4 L807.5,655.7 L809.0,655.9 L810.5,656.1 L812.0,656.3 L813.5,656.5 L815.0,656.7 L816.4,656.9 L817.9,657.1 L819.4,657.3 L820.9,657.5 L822.4,657.7 L823.9,657.9 L825.4,658.1 L826.9,658.3 L828.3,658.5 L829.8,658.7 L831.3,658.8 L832.8,659.0 L834.3,659.2 L835.8,659.3 L837.3,659.5 L838.8,659.6 L840.3,659.8 L841.8,659.9 L843.3,660.1 L844.8,660.2 L846.2,660.3 L847.7,660.5 L849.2,660.6 L850.7,660.7 L852.2,660.9 L853.7,661.0 L855.2,661.2 L856.7,661.3 L858.2,661.4 L859.7,661.6 L861.2,661.7 L862.7,661.9 L864.2,662.0 L865.7,662.2 L867.1,662.4 L868.6,662.5 L870.1,662.7 L871.6,662.9 L873.1,663.1 L874.6,663.3 L876.1,663.5 L877.6,663.7 L879.0,663.9 L880.5,664.1 L882.0,664.3 L883.5,664.6 L885.0,664.8 L886.4,665.1 L887.9,665.4 L889.4,665.6 L890.9,665.9 L892.3,666.2 L893.8,666.5 L895.3,666.8 L896.8,667.1 L898.2,667.4 L899.7,667.7 L901.2,668.0 L902.6,668.4 L904.1,668.7 L905.6,669.0 L907.0,669.3 L908.5,669.6 L909.9,670.0 L911.4,670.3 L912.9,670.6 L914.3,670.9 L915.8,671.2 L917.3,671.5 L918.7,671.8 L920.2,672.2 L921.7,672.4 L923.2,672.7 L924.6,673.0 L926.1,673.3 L927.6,673.6 L929.1,673.8 L930.5,674.1 L932.0,674.3 L933.5,674.5 L935.0,674.7 L936.5,674.9 L938.0,675.1 L939.5,675.3 L940.9,675.5 L942.4,675.6 L943.9,675.8 L945.4,675.9 L946.9,676.0 L948.4,676.2 L949.9,676.3 L951.4,676.4 L952.9,676.5 L954.4,676.6 L955.9,676.7 L957.4,676.7 L958.9,676.8 L960.4,676.9 L961.9,677.0 L963.4,677.1 L964.9,677.2 L966.4,677.3 L967.9,677.5 L969.4,677.6 L970.9,677.7 L972.3,677.9 L973.8,678.0 L975.3,678.2 L976.8,678.3 L978.3,678.5 L979.8,678.7 L981.3,678.9 L982.8,679.1 L984.3,679.2 L985.8,679.4 L987.2,679.6 L988.7,679.8 L990.2,680.0 L991.7,680.2 L993.2,680.4 L994.7,680.6 L996.2,680.8 L997.6,681.0 L999.1,681.2 L1000.6,681.4 L1002.1,681.7 L1003.6,681.9 L1005.1,682.1 L1006.6,682.3 L1008.0,682.5 L1009.5,682.7 L1011.0,682.9 L1012.5,683.1 L1014.0,683.3 L1015.0,683.5" stroke="#616199"/>
<path d="M133.0,615.0 L133.3,613.5 L133.6,612.1 L133.9,610.6 L134.2,609.1 L134.5,607.6 L134.8,606.2 L135.1,604.7 L135.5,603.3 L135.8,601.8 L136.2,600.3 L136.6,598.9 L136.9,597.4 L137.3,596.0 L137.7,594.5 L138.0,593.1 L138.4,591.6 L138.8,590.2 L139.1,588.7 L139.5,587.3 L139.8,585.8 L140.1,584.3 L140.5,582.9 L140.8,581.4 L141.1,579.9 L141.4,578.5 L141.8,577.0 L142.1,575.5 L142.4,574.1 L142.7,572.6 L143.0,571.1 L143.3,569.7 L143.7,568.2 L144.0,566.7 L144.3,565.3 L144.6,563.8 L144.9,562.3 L145.2,560.9 L145.5,559.4 L145.9,557.9 L146.2,556.5 L146.5,555.0 L146.8,553.5 L147.2,552.1 L147.5,550.6 L147.8,549.2 L148.2,547.7 L148.5,546.2 L148.8,544.8 L149.2,543.3 L149.6,541.9 L149.9,540.4 L150.3,539.0 L150.7,537.5 L151.1,536.1 L151.5,534.6 L152.0,533.2 L152.4,531.8 L152.9,530.3 L153.3,528.9 L153.8,527.5 L154.3,526.1 L154.7,524.6 L155.2,523.2 L155.7,521.8 L156.1,520.4 L156.6,518.9 L157.0,517.5 L157.5,516.1 L157.9,514.6 L158.3,513.2 L158.7,511.7 L159.1,510.3 L159.4,508.8 L159.8,507.4 L160.1,505.9 L160.5,504.4 L160.8,503.0 L161.1,501.5 L161.5,500.1 L161.8,498.6 L162.1,497.1 L162.4,495.7 L162.7,494.2 L163.0,492.7 L163.3,491.2 L163.6,489.8 L163.9,488.3 L164.2,486.8 L164.5,485.4 L164.8,483.9 L165.1,482.4 L165.4,481.0 L165.7,479.5 L165.9,478.0 L166.2,476.5 L166.5,475.1 L166.8,473.6 L167.1,472.1 L167.4,470.7 L167.7,469.2 L168.0,467.7 L168.3,466.2 L168.6,464.8 L168.9,463.3 L169.2,461.8 L169.5,460.4 L169.8,458.9 L170.1,457.4 L170.5,456.0 L170.8,454.5 L171.1,453.0 L171.4,451.6 L171.7,450.1 L172.0,448.6 L172.4,447.2 L172.7,445.7 L173.0,444.2 L173.3,442.8 L173.6,441.3 L174.0,439.8 L174.3,438.4 L174.6,436.9 L174.9,435.4 L175.3,434.0 L175.6,432.5 L175.9,431.1 L176.2,429.6 L176.6,428.1 L176.9,426.7 L177.2,425.2 L177.6,423.7 L177.9,422.3 L178.2,420.8 L178.6,419.4 L178.9,417.9 L179.3,416.4 L179.6,415.0 L180.0,413.5 L180.3,412.1 L180.7,410.6 L181.0,409.2 L181.4,407.7 L181.8,406.2 L182.2,404.8 L182.6,403.4 L183.0,401.9 L183.4,400.5 L183.9,399.0 L184.3,397.6 L184.8,396.2 L185.3,394.8 L185.8,393.4 L186.3,392.0 L186.9,390.6 L187.4,389.2 L188.0,387.8 L188.6,386.4 L189.2,385.1 L189.9,383.7 L190.5,382.3 L191.1,381.0 L191.7,379.6 L192.3,378.2 L192.9,376.8 L193.4,375.4 L193.9,374.0 L194.3,372.6 L194.8,371.2 L195.2,369.7 L195.6,368.3 L196.0,366.8 L196.4,365.4 L196.8,364.0 L197.3,362.5 L197.8,361.1 L198.3,359.7 L198.9,358.3 L199.4,356.9 L200.1,355.6 L200.7,354.2 L201.4,352.9 L202.1,351.6 L202.8,350.2 L203.5,348.9 L204.3,347.6 L205.1,346.4 L205.9,345.1 L206.7,343.9 L207.5,342.6 L208.4,341.4 L209.3,340.2 L210.3,339.1 L211.2,337.9 L212.2,336.7 L213.2,335.6 L214.2,334.5 L215.2,333.4 L216.2,332.3 L217.2,331.2 L218.2,330.1 L219.3,329.0 L220.3,327.9 L221.4,326.8 L222.4,325.8 L223.5,324.7 L224.5,323.7 L225.6,322.6 L226.7,321.5 L227.7,320.5 L228.8,319.4 L229.8,318.3 L230.9,317.3 L231.9,316.2 L232.9,315.1 L233.9,314.0 L234.9,312.8 L235.9,311.7 L236.9,310.6 L237.8,309.4 L238.8,308.3 L239.7,307.1 L240.6,305.9 L241.5,304.7 L242.4,303.5 L243.3,302.3 L244.1,301.0 L245.0,299.8 L245.8,298.5 L246.6,297.3 L247.3,296.0 L248.1,294.7 L248.8,293.3 L249.4,292.0 L250.1,290.7 L250.8,289.3 L251.4,287.9 L252.0,286.6 L252.6,285.2 L253.3,283.9 L253.9,282.5 L254.5,281.1 L255.1,279.8 L255.8,278.4 L256.4,277.0 L257.1,275.7 L257.7,274.3 L258.4,273.0 L259.0,271.7 L259.7,270.3 L260.4,269.0 L261.1,267.7 L261.9,266.4 L262.6,265.1 L263.4,263.8 L264.2,262.5 L265.0,261.3 L265.9,260.1 L266.8,258.9 L267.7,257.7 L268.7,256.6 L269.8,255.6 L270.9,254.6 L272.1,253.7 L273.3,252.8 L274.5,252.0 L275.8,251.2 L277.1,250.4 L278.4,249.7 L279.7,249.1 L281.1,248.5 L282.5,248.1 L283.9,247.7 L285.3,247.5 L286.7,247.5 L288.1,247.7 L289.5,248.0 L290.8,248.5 L292.2,249.1 L293.4,249.9 L294.6,250.7 L295.8,251.6 L296.9,252.6 L298.0,253.6 L299.0,254.7 L300.0,255.8 L300.9,257.0 L301.8,258.2 L302.7,259.4 L303.6,260.6 L304.4,261.8 L305.3,263.1 L306.1,264.4 L306.9,265.6 L307.6,266.9 L308.4,268.2 L309.1,269.5 L309.9,270.8 L310.6,272.1 L311.4,273.4 L312.2,274.7 L313.0,275.9 L313.8,277.2 L314.7,278.4 L315.5,279.6 L316.4,280.8 L317.4,282.0 L318.3,283.2 L319.2,284.4 L320.2,285.5 L321.1,286.7 L322.0,287.9 L322.9,289.1 L323.9,290.3 L324.7,291.5 L325.6,292.7 L326.5,293.9 L327.3,295.2 L328.1,296.4 L329.0,297.7 L329.8,298.9 L330.6,300.2 L331.4,301.4 L332.2,302.7 L333.1,303.9 L333.9,305.2 L334.7,306.4 L335.5,307.7 L336.4,308.9 L337.3,310.1 L338.2,311.4 L339.1,312.5 L340.0,313.7 L341.0,314.9 L341.9,316.0 L342.9,317.1 L344.0,318.2 L345.0,319.3 L346.1,320.3 L347.2,321.4 L348.2,322.4 L349.3,323.4 L350.4,324.5 L351.5,325.5 L352.6,326.5 L353.7,327.5 L354.8,328.5 L355.9,329.5 L357.1,330.5 L358.2,331.6 L359.3,332.6 L360.4,333.6 L361.5,334.6 L362.6,335.6 L363.7,336.6 L364.8,337.6 L365.9,338.6 L367.0,339.7 L368.1,340.7 L369.2,341.7 L370.3,342.7 L371.4,343.7 L372.5,344.7 L373.7,345.7 L374.8,346.7 L375.9,347.7 L377.0,348.7 L378.1,349.7 L379.2,350.8 L380.3,351.8 L381.3,352.9 L382.4,354.0 L383.4,355.1 L384.3,356.2 L385.3,357.4 L386.2,358.6 L387.1,359.8 L388.0,361.0 L388.8,362.2 L389.6,363.5 L390.4,364.7 L391.2,366.0 L392.0,367.3 L392.8,368.6 L393.5,369.9 L394.3,371.2 L395.0,372.5 L395.8,373.8 L396.5,375.1 L397.2,376.4 L398.0,377.7 L398.7,379.0 L399.4,380.3 L400.1,381.7 L400.8,383.0 L401.6,384.3 L402.3,385.6 L403.0,386.9 L403.8,388.2 L404.5,389.5 L405.2,390.8 L406.0,392.1 L406.7,393.4 L407.5,394.7 L408.3,396.0 L409.0,397.3 L409.8,398.6 L410.6,399.9 L411.4,401.1 L412.2,402.4 L412.9,403.7 L413.7,405.0 L414.5,406.2 L415.3,407.5 L416.1,408.8 L416.9,410.1 L417.7,411.4 L418.4,412.6 L419.2,413.9 L420.0,415.2 L420.7,416.5 L421.5,417.8 L422.2,419.1 L423.0,420.4 L423.7,421.7 L424.4,423.0 L425.2,424.3 L425.9,425.7 L426.6,427.0 L427.3,428.3 L428.0,429.6 L428.7,431.0 L429.3,432.3 L430.0,433.6 L430.7,435.0 L431.4,436.3 L432.1,437.6 L432.8,439.0 L433.5,440.3 L434.2,441.6 L434.9,442.9 L435.6,444.2 L436.4,445.6 L437.1,446.9 L437.8,448.2 L438.6,449.5 L439.3,450.8 L440.1,452.1 L440.8,453.4 L441.5,454.7 L442.3,456.0 L443.0,457.3 L443.8,458.6 L444.5,459.9 L445.3,461.2 L446.0,462.5 L446.8,463.8 L447.6,465.1 L448.3,466.4 L449.1,467.7 L449.8,469.0 L450.6,470.2 L451.4,471.5 L452.2,472.8 L452.9,474.1 L453.7,475.4 L454.5,476.7 L455.3,477.9 L456.1,479.2 L456.9,480.5 L457.7,481.7 L458.5,483.0 L459.4,484.2 L460.2,485.5 L461.0,486.7 L461.9,488.0 L462.8,489.2 L463.6,490.4 L464.5,491.6 L465.4,492.8 L466.3,494.0 L467.2,495.2 L468.2,496.4 L469.1,497.5 L470.1,498.7 L471.0,499.8 L472.0,501.0 L473.0,502.1 L474.0,503.2 L475.0,504.3 L476.0,505.4 L477.1,506.5 L478.1,507.6 L479.2,508.6 L480.2,509.7 L481.3,510.7 L482.4,511.8 L483.5,512.8 L484.6,513.8 L485.7,514.9 L486.8,515.9 L487.9,516.9 L489.0,517.9 L490.2,518.8 L491.3,519.8 L492.4,520.8 L493.6,521.8 L494.7,522.7 L495.9,523.7 L497.1,524.6 L498.3,525.5 L499.4,526.5 L500.6,527.4 L501.8,528.3 L503.0,529.2 L504.2,530.1 L505.4,530.9 L506.7,531.8 L507.9,532.6 L509.2,533.5 L510.4,534.3 L511.7,535.1 L513.0,535.9 L514.3,536.6 L515.5,537.4 L516.8,538.2 L518.1,538.9 L519.4,539.7 L520.7,540.4 L522.0,541.2 L523.3,541.9 L524.6,542.7 L525.9,543.5 L527.1,544.3 L528.4,545.1 L529.6,546.0 L530.8,546.8 L532.0,547.7 L533.2,548.7 L534.4,549.6 L535.6,550.5 L536.8,551.4 L538.0,552.3 L539.2,553.0 L540.5,553.8 L541.8,554.5 L543.2,555.1 L544.6,555.7 L545.9,556.3 L547.3,556.8 L548.7,557.4 L550.1,557.9 L551.6,558.4 L553.0,558.9 L554.4,559.5 L555.7,560.0 L557.1,560.6 L558.5,561.2 L559.9,561.8 L561.2,562.4 L562.6,563.1 L563.9,563.8 L565.2,564.5 L566.6,565.2 L567.9,565.9 L569.2,566.7 L570.5,567.4 L571.8,568.2 L573.1,568.9 L574.4,569.7 L575.7,570.4 L577.0,571.2 L578.3,571.9 L579.6,572.6 L580.9,573.3 L582.3,574.0 L583.6,574.6 L585.0,575.3 L586.3,575.9 L587.7,576.4 L589.1,577.0 L590.5,577.5 L591.9,578.0 L593.4,578.4 L594.8,578.9 L596.2,579.3 L597.7,579.7 L599.1,580.1 L600.6,580.5 L602.0,580.9 L603.5,581.3 L604.9,581.6 L606.4,582.0 L607.8,582.4 L609.3,582.8 L610.7,583.2 L612.2,583.5 L613.6,583.9 L615.1,584.3 L616.5,584.8 L618.0,585.2 L619.4,585.6 L620.8,586.1 L622.3,586.5 L623.7,587.0 L625.1,587.4 L626.5,587.9 L628.0,588.3 L629.4,588.8 L630.8,589.3 L632.2,589.7 L633.7,590.2 L635.1,590.7 L636.5,591.2 L637.9,591.7 L639.3,592.2 L640.7,592.7 L642.1,593.2 L643.6,593.8 L645.0,594.3 L646.3,594.8 L647.7,595.4 L649.1,596.0 L650.5,596.5 L651.9,597.1 L653.3,597.7 L654.7,598.3 L656.1,598.8 L657.4,599.4 L658.8,600.0 L660.2,600.6 L661.6,601.2 L663.0,601.8 L664.3,602.4 L665.7,603.0 L667.1,603.6 L668.5,604.1 L669.8,604.7 L671.2,605.3 L672.6,605.9 L674.0,606.5 L675.3,607.2 L676.7,607.8 L678.1,608.4 L679.4,609.0 L680.8,609.6 L682.2,610.2 L683.6,610.8 L685.0,611.4 L686.3,611.9 L687.7,612.5 L689.1,613.0 L690.6,613.5 L692.0,614.0 L693.4,614.5 L694.8,614.9 L696.3,615.3 L697.7,615.7 L699.2,616.1 L700.6,616.5 L702.1,616.8 L703.5,617.1 L705.0,617.5 L706.5,617.8 L707.9,618.1 L709.4,618.4 L710.9,618.7 L712.3,619.0 L713.8,619.3 L715.3,619.6 L716.7,619.9 L718.2,620.3 L719.7,620.7 L721.1,621.0 L722.5,621.4 L724.0,621.9 L725.4,622.4 L726.8,622.8 L728.2,623.4 L729.6,623.9 L731.0,624.5 L732.3,625.1 L733.7,625.8 L735.0,626.4 L736.4,627.1 L737.7,627.8 L739.0,628.5 L740.3,629.3 L741.7,630.0 L743.0,630.7 L744.3,631.4 L745.6,632.1 L746.9,632.8 L748.3,633.5 L749.6,634.2 L750.9,634.9 L752.3,635.5 L753.6,636.2 L755.0,636.8 L756.4,637.5 L757.7,638.1 L759.1,638.7 L760.5,639.3 L761.8,639.9 L763.2,640.5 L764.6,641.1 L766.0,641.7 L767.3,642.3 L768.7,642.8 L770.1,643.4 L771.5,643.9 L772.9,644.4 L774.4,644.9 L775.8,645.3 L777.2,645.8 L778.7,646.2 L780.1,646.5 L781.6,646.9 L783.0,647.2 L784.5,647.4 L786.0,647.7 L787.5,647.9 L789.0,648.0 L790.5,648.2 L792.0,648.3 L793.4,648.5 L794.9,648.6 L796.4,648.8 L797.9,648.9 L799.4,649.1 L800.9,649.3 L802.4,649.5 L803.9,649.7 L805.3,650.0 L806.8,650.3 L808.3,650.6 L809.8,650.9 L811.2,651.2 L812.7,651.5 L814.1,651.9 L815.6,652.2 L817.0,652.6 L818.5,653.0 L820.0,653.3 L821.4,653.7 L822.9,654.1 L824.3,654.5 L825.8,654.9 L827.2,655.2 L828.7,655.6 L830.1,656.0 L831.6,656.3 L833.0,656.7 L834.5,657.0 L835.9,657.4 L837.4,657.7 L838.9,658.1 L840.3,658.4 L841.8,658.7 L843.3,659.0 L844.7,659.3 L846.2,659.6 L847.7,659.9 L849.1,660.2 L850.6,660.5 L852.1,660.8 L853.6,661.1 L855.0,661.3 L856.5,661.6 L858.0,661.9 L859.5,662.2 L860.9,662.4 L862.4,662.7 L863.9,663.0 L865.4,663.2 L866.8,663.5 L868.3,663.7 L869.8,664.0 L871.3,664.2 L872.8,664.5 L874.2,664.7 L875.7,664.9 L877.2,665.2 L878.7,665.4 L880.2,665.6 L881.7,665.8 L883.2,666.0 L884.6,666.1 L886.1,666.3 L887.6,666.5 L889.1,666.6 L890.6,666.7 L892.1,666.8 L893.6,666.9 L895.1,667.1 L896.6,667.2 L898.1,667.3 L899.6,667.4 L901.1,667.6 L902.6,667.7 L904.1,667.9 L905.5,668.1 L907.0,668.3 L908.5,668.5 L910.0,668.8 L911.5,669.1 L912.9,669.4 L914.4,669.7 L915.9,670.0 L917.3,670.3 L918.8,670.7 L920.2,671.0 L921.7,671.4 L923.2,671.7 L924.6,672.0 L926.1,672.3 L927.6,672.6 L929.1,672.8 L930.5,673.1 L932.0,673.3 L933.5,673.5 L935.0,673.7 L936.5,673.9 L938.0,674.0 L939.5,674.2 L941.0,674.3 L942.4,674.5 L943.9,674.6 L945.4,674.7 L946.9,674.8 L948.4,674.9 L949.9,675.0 L951.4,675.2 L952.9,675.3 L954.4,675.4 L955.9,675.5 L957.4,675.6 L958.9,675.7 L960.4,675.8 L961.9,675.9 L963.4,676.0 L964.9,676.2 L966.4,676.3 L967.9,676.4 L969.4,676.6 L970.9,676.7 L972.3,676.9 L973.8,677.0 L975.3,677.2 L976.8,677.3 L978.3,677.5 L979.8,677.7 L981.3,677.9 L982.8,678.1 L984.3,678.2 L985.8,678.4 L987.2,678.6 L988.7,678.8 L990.2,679.0 L991.7,679.2 L993.2,679.4 L994.7,679.6 L996.2,679.8 L997.6,680.0 L999.1,680.2 L1000.6,680.4 L1002.1,680.7 L1003.6,680.9 L1005.1,681.1 L1006.6,681.3 L1008.0,681.5 L1009.5,681.7 L1011.0,681.9 L1012.5,682.1 L1014.0,682.3 L1015.0,682.5" stroke="#9b9b9b"/>
<path d="M133.0,621.0 L133.2,619.5 L133.5,618.0 L133.7,616.6 L134.0,615.1 L134.2,613.6 L134.5,612.1 L134.7,610.6 L135.0,609.2 L135.3,607.7 L135.6,606.2 L135.9,604.8 L136.2,603.3 L136.6,601.8 L137.0,600.4 L137.3,598.9 L137.7,597.5 L138.1,596.0 L138.5,594.6 L139.0,593.2 L139.4,591.7 L139.8,590.3 L140.2,588.8 L140.6,587.4 L141.0,585.9 L141.3,584.5 L141.7,583.0 L142.1,581.6 L142.4,580.1 L142.8,578.7 L143.1,577.2 L143.5,575.7 L143.8,574.3 L144.2,572.8 L144.5,571.4 L144.9,569.9 L145.2,568.4 L145.6,567.0 L145.9,565.5 L146.2,564.1 L146.6,562.6 L146.9,561.1 L147.3,559.7 L147.6,558.2 L148.0,556.8 L148.3,555.3 L148.7,553.9 L149.0,552.4 L149.4,550.9 L149.7,549.5 L150.1,548.0 L150.5,546.6 L150.8,545.1 L151.2,543.7 L151.6,542.2 L152.0,540.8 L152.4,539.3 L152.9,537.9 L153.3,536.5 L153.7,535.0 L154.2,533.6 L154.6,532.2 L155.1,530.7 L155.6,529.3 L156.0,527.9 L156.5,526.5 L157.0,525.0 L157.4,523.6 L157.9,522.2 L158.3,520.7 L158.8,519.3 L159.2,517.9 L159.6,516.4 L160.0,515.0 L160.5,513.6 L160.9,512.1 L161.2,510.7 L161.6,509.2 L162.0,507.8 L162.4,506.3 L162.7,504.9 L163.1,503.4 L163.5,501.9 L163.8,500.5 L164.1,499.0 L164.5,497.6 L164.8,496.1 L165.2,494.6 L165.5,493.2 L165.8,491.7 L166.1,490.2 L166.5,488.8 L166.8,487.3 L167.1,485.9 L167.5,484.4 L167.8,482.9 L168.1,481.5 L168.4,480.0 L168.8,478.5 L169.1,477.1 L169.4,475.6 L169.7,474.1 L170.1,472.7 L170.4,471.2 L170.7,469.8 L171.1,468.3 L171.4,466.8 L171.7,465.4 L172.1,463.9 L172.4,462.4 L172.8,461.0 L173.1,459.5 L173.5,458.1 L173.9,456.6 L174.2,455.2 L174.6,453.7 L175.0,452.3 L175.3,450.8 L175.7,449.4 L176.1,447.9 L176.5,446.4 L176.8,445.0 L177.2,443.5 L177.6,442.1 L178.0,440.6 L178.4,439.2 L178.8,437.8 L179.2,436.3 L179.6,434.9 L179.9,433.4 L180.3,432.0 L180.7,430.5 L181.1,429.1 L181.5,427.6 L181.9,426.2 L182.3,424.7 L182.7,423.3 L183.1,421.8 L183.5,420.4 L183.9,418.9 L184.3,417.5 L184.7,416.0 L185.1,414.6 L185.5,413.1 L185.8,411.7 L186.2,410.2 L186.6,408.8 L187.0,407.3 L187.4,405.9 L187.7,404.4 L188.1,403.0 L188.5,401.5 L188.8,400.1 L189.2,398.6 L189.6,397.2 L189.9,395.7 L190.3,394.3 L190.7,392.8 L191.1,391.4 L191.5,389.9 L191.9,388.5 L192.4,387.0 L192.8,385.6 L193.3,384.2 L193.8,382.8 L194.3,381.4 L194.8,380.0 L195.4,378.6 L196.0,377.2 L196.6,375.9 L197.3,374.5 L198.0,373.2 L198.7,371.9 L199.4,370.6 L200.2,369.3 L201.0,368.0 L201.8,366.8 L202.7,365.5 L203.5,364.3 L204.4,363.1 L205.3,361.9 L206.1,360.6 L207.0,359.4 L207.9,358.2 L208.7,357.0 L209.6,355.7 L210.5,354.5 L211.4,353.3 L212.3,352.1 L213.2,351.0 L214.2,349.8 L215.1,348.6 L216.1,347.5 L217.1,346.4 L218.2,345.4 L219.3,344.4 L220.5,343.5 L221.7,342.6 L222.9,341.8 L224.2,341.0 L225.5,340.2 L226.8,339.4 L228.0,338.7 L229.3,337.9 L230.6,337.1 L231.8,336.3 L233.1,335.4 L234.3,334.5 L235.5,333.6 L236.7,332.7 L237.8,331.8 L238.9,330.7 L239.9,329.7 L240.9,328.6 L241.9,327.4 L242.8,326.3 L243.7,325.1 L244.6,323.8 L245.4,322.6 L246.2,321.3 L247.0,320.1 L247.8,318.8 L248.6,317.5 L249.4,316.2 L250.1,314.9 L250.9,313.7 L251.7,312.4 L252.4,311.1 L253.1,309.7 L253.9,308.4 L254.6,307.1 L255.3,305.8 L256.0,304.5 L256.7,303.1 L257.3,301.8 L258.0,300.4 L258.6,299.1 L259.1,297.7 L259.7,296.3 L260.2,294.9 L260.8,293.5 L261.3,292.1 L261.8,290.7 L262.4,289.3 L262.9,287.9 L263.5,286.5 L264.0,285.1 L264.6,283.7 L265.2,282.4 L265.9,281.0 L266.5,279.7 L267.2,278.3 L267.9,277.0 L268.7,275.7 L269.5,274.5 L270.4,273.3 L271.4,272.2 L272.4,271.1 L273.5,270.2 L274.7,269.3 L275.9,268.6 L277.2,267.9 L278.6,267.4 L280.0,266.9 L281.4,266.5 L282.9,266.2 L284.3,266.0 L285.8,265.9 L287.2,265.9 L288.6,266.0 L290.0,266.3 L291.4,266.8 L292.7,267.4 L293.9,268.1 L295.1,269.0 L296.3,269.9 L297.4,270.9 L298.5,271.9 L299.5,273.0 L300.5,274.1 L301.5,275.2 L302.5,276.3 L303.4,277.5 L304.3,278.7 L305.2,279.9 L306.1,281.1 L306.9,282.4 L307.8,283.6 L308.7,284.8 L309.5,286.1 L310.4,287.3 L311.2,288.5 L312.0,289.8 L312.9,291.0 L313.7,292.3 L314.6,293.5 L315.4,294.8 L316.2,296.0 L317.1,297.2 L317.9,298.5 L318.7,299.7 L319.5,301.0 L320.4,302.3 L321.2,303.5 L322.0,304.8 L322.8,306.0 L323.6,307.3 L324.5,308.5 L325.3,309.8 L326.1,311.0 L327.0,312.3 L327.8,313.5 L328.6,314.8 L329.5,316.0 L330.3,317.3 L331.1,318.5 L332.0,319.8 L332.8,321.0 L333.6,322.3 L334.5,323.5 L335.3,324.8 L336.1,326.0 L337.0,327.2 L337.8,328.4 L338.7,329.7 L339.6,330.8 L340.6,332.0 L341.5,333.2 L342.5,334.3 L343.5,335.4 L344.6,336.4 L345.7,337.5 L346.8,338.5 L347.9,339.4 L349.1,340.4 L350.3,341.3 L351.5,342.2 L352.7,343.1 L353.9,343.9 L355.2,344.8 L356.4,345.7 L357.6,346.5 L358.8,347.4 L360.1,348.2 L361.3,349.1 L362.5,350.0 L363.7,350.9 L364.8,351.9 L366.0,352.8 L367.1,353.8 L368.3,354.8 L369.4,355.8 L370.5,356.8 L371.6,357.8 L372.7,358.8 L373.8,359.8 L374.9,360.9 L375.9,361.9 L377.0,363.0 L378.0,364.1 L379.0,365.2 L380.0,366.3 L381.0,367.4 L382.0,368.6 L383.0,369.7 L383.9,370.9 L384.8,372.1 L385.7,373.3 L386.6,374.5 L387.5,375.7 L388.4,376.9 L389.3,378.1 L390.1,379.4 L391.0,380.6 L391.8,381.8 L392.6,383.1 L393.4,384.3 L394.3,385.6 L395.1,386.9 L395.9,388.1 L396.7,389.4 L397.5,390.7 L398.3,392.0 L399.0,393.2 L399.8,394.5 L400.6,395.8 L401.3,397.1 L402.1,398.4 L402.8,399.7 L403.6,401.0 L404.3,402.3 L405.0,403.7 L405.7,405.0 L406.3,406.3 L407.0,407.7 L407.7,409.0 L408.3,410.4 L409.0,411.7 L409.7,413.0 L410.4,414.4 L411.0,415.7 L411.7,417.0 L412.5,418.4 L413.2,419.7 L413.9,421.0 L414.7,422.3 L415.5,423.5 L416.2,424.8 L417.0,426.1 L417.8,427.4 L418.6,428.6 L419.4,429.9 L420.2,431.2 L421.0,432.4 L421.8,433.7 L422.6,435.0 L423.4,436.2 L424.2,437.5 L425.0,438.8 L425.8,440.1 L426.5,441.4 L427.3,442.7 L428.0,444.0 L428.8,445.3 L429.5,446.6 L430.2,447.9 L430.9,449.2 L431.6,450.6 L432.3,451.9 L433.0,453.2 L433.7,454.6 L434.3,455.9 L435.0,457.3 L435.7,458.6 L436.3,459.9 L437.0,461.3 L437.7,462.6 L438.4,464.0 L439.0,465.3 L439.7,466.6 L440.4,468.0 L441.1,469.3 L441.8,470.6 L442.5,472.0 L443.2,473.3 L443.9,474.6 L444.7,475.9 L445.4,477.2 L446.2,478.5 L447.0,479.8 L447.8,481.0 L448.6,482.3 L449.4,483.5 L450.3,484.8 L451.2,486.0 L452.1,487.2 L453.0,488.4 L453.9,489.5 L454.8,490.7 L455.8,491.9 L456.7,493.0 L457.7,494.2 L458.7,495.3 L459.7,496.4 L460.7,497.5 L461.8,498.6 L462.8,499.7 L463.8,500.8 L464.9,501.9 L465.9,502.9 L466.9,504.0 L468.0,505.1 L469.0,506.2 L470.1,507.2 L471.1,508.3 L472.2,509.4 L473.3,510.4 L474.3,511.5 L475.4,512.5 L476.5,513.5 L477.6,514.5 L478.7,515.6 L479.8,516.6 L481.0,517.6 L482.1,518.6 L483.2,519.5 L484.4,520.5 L485.5,521.5 L486.7,522.4 L487.9,523.3 L489.1,524.2 L490.3,525.1 L491.5,526.0 L492.7,526.8 L494.0,527.7 L495.2,528.5 L496.5,529.3 L497.8,530.0 L499.1,530.8 L500.4,531.5 L501.7,532.3 L503.0,533.0 L504.3,533.8 L505.6,534.5 L506.9,535.3 L508.2,536.0 L509.4,536.8 L510.7,537.6 L512.0,538.5 L513.2,539.3 L514.4,540.2 L515.6,541.1 L516.7,542.1 L517.9,543.0 L519.0,544.0 L520.1,545.1 L521.2,546.1 L522.3,547.1 L523.3,548.2 L524.4,549.2 L525.5,550.3 L526.6,551.3 L527.7,552.3 L528.8,553.3 L529.9,554.3 L531.1,555.2 L532.3,556.2 L533.5,557.1 L534.7,557.9 L535.9,558.8 L537.2,559.6 L538.4,560.4 L539.7,561.2 L540.9,562.0 L542.2,562.8 L543.5,563.6 L544.8,564.4 L546.1,565.1 L547.4,565.9 L548.7,566.6 L550.0,567.4 L551.3,568.1 L552.6,568.9 L553.9,569.7 L555.2,570.4 L556.4,571.2 L557.7,572.0 L559.0,572.8 L560.3,573.6 L561.5,574.4 L562.8,575.2 L564.0,576.0 L565.3,576.9 L566.5,577.7 L567.7,578.6 L568.9,579.5 L570.1,580.4 L571.3,581.3 L572.6,582.2 L573.8,583.0 L575.0,583.9 L576.2,584.8 L577.4,585.6 L578.7,586.5 L579.9,587.3 L581.2,588.1 L582.5,588.8 L583.8,589.5 L585.2,590.2 L586.5,590.8 L587.9,591.3 L589.3,591.8 L590.7,592.3 L592.2,592.6 L593.6,592.9 L595.1,593.2 L596.6,593.4 L598.1,593.6 L599.6,593.8 L601.1,593.9 L602.6,594.1 L604.0,594.2 L605.5,594.4 L607.0,594.6 L608.5,594.8 L610.0,595.1 L611.4,595.4 L612.9,595.8 L614.3,596.2 L615.7,596.7 L617.1,597.1 L618.6,597.7 L620.0,598.2 L621.3,598.7 L622.7,599.3 L624.1,599.9 L625.5,600.5 L626.9,601.1 L628.2,601.7 L629.6,602.3 L631.0,603.0 L632.3,603.6 L633.7,604.2 L635.1,604.8 L636.4,605.4 L637.8,606.0 L639.2,606.6 L640.6,607.2 L642.0,607.8 L643.3,608.4 L644.7,608.9 L646.1,609.5 L647.5,610.1 L648.8,610.7 L650.2,611.3 L651.6,611.9 L653.0,612.5 L654.4,613.1 L655.8,613.7 L657.1,614.2 L658.5,614.8 L659.9,615.3 L661.3,615.9 L662.7,616.4 L664.1,617.0 L665.5,617.5 L666.9,618.0 L668.3,618.5 L669.8,619.0 L671.2,619.5 L672.6,620.0 L674.0,620.5 L675.4,621.0 L676.9,621.4 L678.3,621.9 L679.7,622.3 L681.1,622.8 L682.6,623.3 L684.0,623.7 L685.4,624.1 L686.9,624.6 L688.3,625.0 L689.7,625.5 L691.2,625.9 L692.6,626.3 L694.0,626.8 L695.5,627.2 L696.9,627.6 L698.4,628.0 L699.8,628.5 L701.2,628.9 L702.7,629.3 L704.1,629.7 L705.6,630.1 L707.0,630.5 L708.5,630.9 L709.9,631.3 L711.3,631.7 L712.8,632.1 L714.2,632.6 L715.7,633.0 L717.1,633.4 L718.6,633.8 L720.0,634.2 L721.5,634.5 L722.9,634.9 L724.4,635.3 L725.8,635.7 L727.3,636.1 L728.7,636.5 L730.2,636.9 L731.6,637.2 L733.1,637.6 L734.5,638.0 L736.0,638.4 L737.4,638.8 L738.9,639.1 L740.3,639.5 L741.8,639.9 L743.2,640.3 L744.7,640.7 L746.1,641.1 L747.6,641.5 L749.0,641.9 L750.4,642.3 L751.9,642.8 L753.3,643.2 L754.7,643.7 L756.1,644.2 L757.5,644.7 L758.9,645.2 L760.3,645.8 L761.7,646.3 L763.1,646.9 L764.5,647.4 L765.9,648.0 L767.3,648.5 L768.7,649.0 L770.2,649.5 L771.6,649.9 L773.0,650.3 L774.5,650.7 L775.9,651.1 L777.4,651.5 L778.8,651.8 L780.3,652.1 L781.8,652.5 L783.2,652.8 L784.7,653.0 L786.2,653.3 L787.7,653.6 L789.1,653.9 L790.6,654.1 L792.1,654.4 L793.6,654.6 L795.0,654.9 L796.5,655.1 L798.0,655.4 L799.5,655.6 L801.0,655.9 L802.4,656.1 L803.9,656.4 L805.4,656.6 L806.9,656.8 L808.4,657.1 L809.8,657.3 L811.3,657.5 L812.8,657.8 L814.3,658.0 L815.8,658.2 L817.3,658.4 L818.7,658.7 L820.2,658.9 L821.7,659.1 L823.2,659.3 L824.7,659.5 L826.2,659.8 L827.6,660.0 L829.1,660.2 L830.6,660.4 L832.1,660.7 L833.6,660.9 L835.1,661.1 L836.5,661.3 L838.0,661.5 L839.5,661.7 L841.0,662.0 L842.5,662.2 L844.0,662.4 L845.5,662.6 L846.9,662.8 L848.4,663.0 L849.9,663.2 L851.4,663.4 L852.9,663.6 L854.4,663.8 L855.9,663.9 L857.4,664.1 L858.8,664.3 L860.3,664.5 L861.8,664.6 L863.3,664.8 L864.8,665.0 L866.3,665.2 L867.8,665.3 L869.3,665.5 L870.8,665.7 L872.2,665.9 L873.7,666.1 L875.2,666.3 L876.7,666.5 L878.2,666.7 L879.7,667.0 L881.2,667.2 L882.6,667.4 L884.1,667.7 L885.6,667.9 L887.1,668.2 L888.6,668.4 L890.0,668.7 L891.5,668.9 L893.0,669.2 L894.5,669.5 L895.9,669.7 L897.4,670.0 L898.9,670.3 L900.4,670.5 L901.8,670.8 L903.3,671.1 L904.8,671.3 L906.3,671.6 L907.7,671.9 L909.2,672.1 L910.7,672.4 L912.2,672.7 L913.7,672.9 L915.1,673.2 L916.6,673.4 L918.1,673.7 L919.6,673.9 L921.0,674.2 L922.5,674.4 L924.0,674.7 L925.5,674.9 L927.0,675.1 L928.5,675.3 L929.9,675.6 L931.4,675.8 L932.9,676.0 L934.4,676.1 L935.9,676.3 L937.4,676.5 L938.9,676.6 L940.4,676.8 L941.9,676.9 L943.4,677.0 L944.9,677.1 L946.3,677.2 L947.8,677.3 L949.3,677.4 L950.8,677.5 L952.3,677.6 L953.8,677.7 L955.3,677.7 L956.8,677.8 L958.3,677.9 L959.8,678.0 L961.3,678.0 L962.8,678.1 L964.3,678.2 L965.8,678.3 L967.3,678.4 L968.8,678.5 L970.3,678.7 L971.8,678.8 L973.3,679.0 L974.8,679.1 L976.3,679.3 L977.8,679.5 L979.2,679.6 L980.7,679.8 L982.2,680.0 L983.7,680.2 L985.2,680.4 L986.7,680.6 L988.2,680.9 L989.7,681.1 L991.1,681.3 L992.6,681.5 L994.1,681.7 L995.6,681.9 L997.1,682.2 L998.6,682.4 L1000.0,682.6 L1001.5,682.9 L1003.0,683.1 L1004.5,683.3 L1006.0,683.6 L1007.4,683.8 L1008.9,684.0 L1010.4,684.2 L1011.9,684.5 L1013.4,684.7 L1014.9,684.9 L1014.9,684.9" stroke="#fe6262"/>
<path d="M133.0,646.5 L133.4,645.1 L133.8,643.6 L134.2,642.2 L134.6,640.7 L135.0,639.3 L135.4,637.8 L135.8,636.4 L136.2,634.9 L136.6,633.5 L137.0,632.1 L137.4,630.6 L137.8,629.2 L138.2,627.7 L138.6,626.3 L139.0,624.8 L139.3,623.4 L139.7,621.9 L140.1,620.4 L140.4,619.0 L140.8,617.5 L141.2,616.1 L141.5,614.6 L141.9,613.2 L142.2,611.7 L142.6,610.2 L142.9,608.8 L143.2,607.3 L143.6,605.9 L143.9,604.4 L144.3,602.9 L144.7,601.5 L145.0,600.0 L145.4,598.6 L145.8,597.1 L146.2,595.7 L146.5,594.2 L146.9,592.8 L147.3,591.3 L147.7,589.9 L148.1,588.4 L148.4,587.0 L148.8,585.5 L149.1,584.1 L149.4,582.6 L149.7,581.1 L150.0,579.7 L150.3,578.2 L150.6,576.7 L150.8,575.2 L151.1,573.7 L151.3,572.3 L151.6,570.8 L151.8,569.3 L152.0,567.8 L152.3,566.3 L152.5,564.9 L152.7,563.4 L153.0,561.9 L153.2,560.4 L153.4,558.9 L153.7,557.4 L153.9,556.0 L154.1,554.5 L154.4,553.0 L154.6,551.5 L154.9,550.0 L155.1,548.6 L155.4,547.1 L155.7,545.6 L156.0,544.2 L156.3,542.7 L156.6,541.2 L156.9,539.8 L157.3,538.3 L157.6,536.8 L158.0,535.4 L158.4,533.9 L158.8,532.5 L159.2,531.0 L159.6,529.6 L160.0,528.2 L160.5,526.7 L160.9,525.3 L161.4,523.9 L161.8,522.4 L162.3,521.0 L162.7,519.6 L163.2,518.2 L163.6,516.7 L164.0,515.3 L164.5,513.8 L164.9,512.4 L165.3,511.0 L165.7,509.5 L166.0,508.1 L166.4,506.6 L166.8,505.1 L167.1,503.7 L167.5,502.2 L167.8,500.8 L168.2,499.3 L168.5,497.9 L168.9,496.4 L169.2,494.9 L169.5,493.5 L169.9,492.0 L170.2,490.5 L170.6,489.1 L170.9,487.6 L171.2,486.2 L171.6,484.7 L171.9,483.2 L172.2,481.8 L172.6,480.3 L172.9,478.8 L173.2,477.4 L173.6,475.9 L173.9,474.5 L174.3,473.0 L174.6,471.5 L175.0,470.1 L175.3,468.6 L175.7,467.2 L176.0,465.7 L176.4,464.3 L176.8,462.8 L177.2,461.4 L177.6,459.9 L178.0,458.5 L178.4,457.0 L178.8,455.6 L179.3,454.2 L179.7,452.7 L180.2,451.3 L180.7,449.9 L181.2,448.5 L181.7,447.1 L182.2,445.7 L182.7,444.3 L183.3,442.9 L183.8,441.5 L184.3,440.0 L184.8,438.6 L185.4,437.2 L185.9,435.8 L186.4,434.4 L186.9,433.0 L187.4,431.6 L187.8,430.2 L188.3,428.7 L188.8,427.3 L189.3,425.9 L189.7,424.5 L190.2,423.0 L190.6,421.6 L191.1,420.2 L191.5,418.7 L191.9,417.3 L192.3,415.8 L192.7,414.4 L193.0,412.9 L193.4,411.5 L193.7,410.0 L194.1,408.6 L194.4,407.1 L194.8,405.7 L195.2,404.2 L195.7,402.8 L196.2,401.4 L196.7,400.0 L197.3,398.6 L198.0,397.3 L198.7,396.0 L199.5,394.7 L200.3,393.5 L201.1,392.2 L202.0,391.0 L202.9,389.9 L203.9,388.7 L204.9,387.6 L205.9,386.4 L206.9,385.3 L207.9,384.2 L208.9,383.2 L210.0,382.1 L211.1,381.1 L212.2,380.1 L213.3,379.1 L214.4,378.1 L215.6,377.1 L216.7,376.1 L217.8,375.1 L218.9,374.1 L220.0,373.1 L221.1,372.1 L222.2,371.0 L223.3,370.0 L224.4,369.0 L225.5,367.9 L226.5,366.9 L227.6,365.8 L228.6,364.7 L229.6,363.6 L230.7,362.5 L231.7,361.4 L232.7,360.3 L233.6,359.1 L234.6,358.0 L235.5,356.8 L236.4,355.6 L237.2,354.3 L238.0,353.1 L238.8,351.8 L239.5,350.5 L240.2,349.2 L240.8,347.8 L241.5,346.5 L242.1,345.1 L242.7,343.7 L243.3,342.3 L243.9,341.0 L244.4,339.6 L245.0,338.2 L245.6,336.8 L246.1,335.4 L246.7,334.0 L247.2,332.6 L247.8,331.2 L248.4,329.9 L249.0,328.5 L249.7,327.2 L250.4,325.9 L251.2,324.6 L252.0,323.3 L252.8,322.1 L253.6,320.8 L254.5,319.6 L255.3,318.3 L256.2,317.1 L257.0,315.9 L257.8,314.6 L258.6,313.3 L259.4,312.1 L260.3,310.8 L261.1,309.6 L261.9,308.3 L262.7,307.1 L263.6,305.9 L264.5,304.7 L265.5,303.6 L266.5,302.5 L267.6,301.4 L268.7,300.4 L269.8,299.5 L271.0,298.6 L272.2,297.7 L273.5,297.0 L274.8,296.3 L276.2,295.7 L277.6,295.2 L279.0,294.9 L280.4,294.6 L281.9,294.4 L283.4,294.4 L284.8,294.4 L286.3,294.6 L287.8,294.8 L289.2,295.1 L290.6,295.5 L292.1,296.0 L293.4,296.5 L294.8,297.1 L296.1,297.8 L297.4,298.5 L298.7,299.3 L299.9,300.2 L301.0,301.1 L302.2,302.1 L303.3,303.1 L304.4,304.1 L305.5,305.2 L306.5,306.2 L307.6,307.3 L308.6,308.3 L309.7,309.4 L310.7,310.5 L311.8,311.6 L312.8,312.6 L313.9,313.7 L314.9,314.8 L315.9,315.9 L317.0,317.0 L318.0,318.0 L319.1,319.1 L320.1,320.2 L321.2,321.2 L322.2,322.3 L323.3,323.4 L324.3,324.5 L325.3,325.6 L326.3,326.7 L327.3,327.8 L328.3,329.0 L329.2,330.2 L330.1,331.4 L331.0,332.6 L331.8,333.8 L332.6,335.0 L333.4,336.3 L334.2,337.6 L335.0,338.9 L335.8,340.2 L336.6,341.4 L337.3,342.7 L338.1,344.0 L338.9,345.3 L339.8,346.5 L340.6,347.7 L341.5,348.9 L342.5,350.1 L343.4,351.2 L344.4,352.3 L345.5,353.4 L346.6,354.4 L347.7,355.4 L348.9,356.3 L350.1,357.2 L351.3,358.1 L352.5,359.0 L353.7,359.8 L355.0,360.7 L356.2,361.5 L357.4,362.4 L358.7,363.2 L359.9,364.1 L361.1,365.0 L362.3,365.9 L363.5,366.8 L364.6,367.8 L365.7,368.8 L366.8,369.8 L367.9,370.9 L368.9,371.9 L370.0,373.0 L371.0,374.1 L372.0,375.2 L373.0,376.4 L373.9,377.5 L374.9,378.7 L375.8,379.8 L376.8,381.0 L377.7,382.2 L378.6,383.3 L379.5,384.5 L380.4,385.7 L381.3,386.9 L382.2,388.2 L383.1,389.4 L384.0,390.6 L384.8,391.8 L385.7,393.1 L386.5,394.3 L387.3,395.6 L388.1,396.8 L389.0,398.1 L389.8,399.3 L390.5,400.6 L391.3,401.9 L392.1,403.2 L392.9,404.4 L393.7,405.7 L394.5,407.0 L395.3,408.3 L396.0,409.6 L396.8,410.8 L397.6,412.1 L398.4,413.4 L399.2,414.7 L400.0,415.9 L400.8,417.2 L401.7,418.4 L402.5,419.7 L403.4,420.9 L404.2,422.1 L405.1,423.4 L406.0,424.6 L406.8,425.8 L407.7,427.0 L408.6,428.2 L409.5,429.4 L410.4,430.6 L411.3,431.8 L412.2,433.0 L413.1,434.2 L413.9,435.5 L414.8,436.7 L415.7,437.9 L416.5,439.1 L417.4,440.4 L418.2,441.6 L419.0,442.9 L419.8,444.2 L420.6,445.5 L421.4,446.7 L422.1,448.0 L422.9,449.3 L423.6,450.6 L424.4,451.9 L425.1,453.2 L425.8,454.6 L426.5,455.9 L427.3,457.2 L428.0,458.5 L428.7,459.8 L429.5,461.1 L430.2,462.4 L430.9,463.7 L431.7,465.0 L432.4,466.3 L433.2,467.6 L434.0,468.9 L434.8,470.2 L435.6,471.4 L436.4,472.7 L437.2,473.9 L438.1,475.2 L439.0,476.4 L439.9,477.6 L440.8,478.7 L441.7,479.9 L442.7,481.1 L443.7,482.2 L444.7,483.3 L445.7,484.4 L446.7,485.5 L447.7,486.6 L448.8,487.7 L449.8,488.8 L450.9,489.8 L451.9,490.9 L453.0,491.9 L454.0,493.0 L455.1,494.1 L456.2,495.2 L457.2,496.2 L458.3,497.3 L459.3,498.4 L460.3,499.4 L461.4,500.5 L462.4,501.6 L463.5,502.7 L464.5,503.7 L465.6,504.8 L466.7,505.9 L467.7,506.9 L468.8,508.0 L469.8,509.0 L470.9,510.1 L472.0,511.2 L473.0,512.2 L474.1,513.3 L475.2,514.3 L476.3,515.4 L477.3,516.4 L478.4,517.4 L479.5,518.5 L480.6,519.5 L481.7,520.6 L482.7,521.6 L483.8,522.6 L484.9,523.7 L486.0,524.7 L487.1,525.7 L488.2,526.7 L489.3,527.8 L490.4,528.8 L491.5,529.8 L492.6,530.8 L493.7,531.8 L494.8,532.8 L495.9,533.8 L497.0,534.8 L498.2,535.8 L499.3,536.8 L500.4,537.8 L501.5,538.9 L502.6,539.9 L503.7,540.9 L504.9,541.9 L506.0,542.9 L507.1,543.9 L508.2,544.9 L509.3,545.9 L510.4,546.9 L511.5,548.0 L512.6,549.0 L513.7,550.0 L514.8,551.0 L515.9,552.0 L517.0,553.0 L518.2,554.0 L519.3,554.9 L520.5,555.9 L521.6,556.9 L522.8,557.8 L524.0,558.7 L525.2,559.6 L526.4,560.5 L527.6,561.4 L528.8,562.2 L530.1,563.0 L531.4,563.8 L532.6,564.6 L533.9,565.4 L535.2,566.1 L536.6,566.8 L537.9,567.5 L539.2,568.2 L540.5,568.9 L541.9,569.6 L543.2,570.2 L544.6,570.9 L546.0,571.5 L547.3,572.1 L548.7,572.7 L550.0,573.4 L551.4,574.0 L552.8,574.6 L554.2,575.2 L555.5,575.8 L556.9,576.4 L558.3,577.1 L559.6,577.7 L561.0,578.3 L562.3,579.0 L563.7,579.6 L565.0,580.3 L566.4,580.9 L567.7,581.6 L569.1,582.3 L570.4,582.9 L571.8,583.6 L573.1,584.2 L574.5,584.9 L575.8,585.5 L577.2,586.1 L578.6,586.8 L579.9,587.4 L581.3,587.9 L582.7,588.5 L584.1,589.0 L585.5,589.5 L586.9,590.0 L588.4,590.5 L589.8,590.9 L591.2,591.3 L592.7,591.7 L594.1,592.0 L595.6,592.3 L597.1,592.6 L598.6,592.9 L600.0,593.2 L601.5,593.4 L603.0,593.7 L604.5,593.9 L605.9,594.2 L607.4,594.5 L608.9,594.8 L610.3,595.1 L611.8,595.4 L613.3,595.8 L614.7,596.1 L616.2,596.5 L617.6,596.9 L619.1,597.3 L620.5,597.7 L622.0,598.1 L623.4,598.5 L624.9,598.9 L626.3,599.3 L627.7,599.7 L629.2,600.2 L630.6,600.6 L632.0,601.0 L633.5,601.5 L634.9,601.9 L636.3,602.4 L637.7,602.9 L639.2,603.4 L640.6,603.8 L642.0,604.3 L643.4,604.8 L644.8,605.3 L646.2,605.8 L647.7,606.4 L649.1,606.9 L650.5,607.4 L651.9,607.9 L653.3,608.5 L654.7,609.0 L656.1,609.5 L657.5,610.1 L658.9,610.6 L660.3,611.2 L661.7,611.7 L663.0,612.3 L664.4,612.9 L665.8,613.4 L667.2,614.0 L668.6,614.6 L670.0,615.2 L671.4,615.7 L672.7,616.3 L674.1,616.9 L675.5,617.5 L676.9,618.1 L678.2,618.7 L679.6,619.3 L681.0,619.9 L682.4,620.5 L683.8,621.0 L685.2,621.6 L686.6,622.1 L688.0,622.7 L689.4,623.2 L690.8,623.7 L692.2,624.3 L693.6,624.8 L695.0,625.3 L696.4,625.8 L697.8,626.3 L699.2,626.8 L700.7,627.3 L702.1,627.8 L703.5,628.3 L704.9,628.8 L706.3,629.3 L707.7,629.7 L709.2,630.2 L710.6,630.7 L712.0,631.2 L713.4,631.7 L714.8,632.1 L716.3,632.6 L717.7,633.1 L719.1,633.5 L720.6,634.0 L722.0,634.5 L723.4,634.9 L724.8,635.4 L726.3,635.8 L727.7,636.2 L729.2,636.7 L730.6,637.1 L732.0,637.5 L733.5,637.9 L734.9,638.2 L736.4,638.6 L737.8,639.0 L739.3,639.4 L740.7,639.7 L742.2,640.1 L743.7,640.4 L745.1,640.8 L746.6,641.2 L748.0,641.6 L749.5,642.0 L750.9,642.4 L752.3,642.8 L753.8,643.2 L755.2,643.7 L756.6,644.1 L758.1,644.6 L759.5,645.1 L760.9,645.6 L762.3,646.1 L763.7,646.6 L765.1,647.1 L766.6,647.6 L768.0,648.1 L769.4,648.6 L770.8,649.1 L772.2,649.6 L773.6,650.0 L775.1,650.5 L776.5,650.9 L778.0,651.3 L779.4,651.7 L780.8,652.1 L782.3,652.5 L783.8,652.9 L785.2,653.2 L786.7,653.5 L788.1,653.8 L789.6,654.2 L791.1,654.4 L792.5,654.7 L794.0,655.0 L795.5,655.3 L797.0,655.6 L798.5,655.8 L799.9,656.1 L801.4,656.3 L802.9,656.6 L804.4,656.8 L805.8,657.1 L807.3,657.3 L808.8,657.6 L810.3,657.8 L811.8,658.0 L813.2,658.3 L814.7,658.5 L816.2,658.7 L817.7,658.9 L819.2,659.2 L820.7,659.4 L822.1,659.6 L823.6,659.8 L825.1,660.0 L826.6,660.2 L828.1,660.5 L829.6,660.7 L831.1,660.9 L832.5,661.1 L834.0,661.3 L835.5,661.5 L837.0,661.7 L838.5,661.9 L840.0,662.1 L841.5,662.3 L842.9,662.5 L844.4,662.8 L845.9,663.0 L847.4,663.2 L848.9,663.4 L850.4,663.6 L851.9,663.8 L853.3,664.0 L854.8,664.2 L856.3,664.4 L857.8,664.6 L859.3,664.8 L860.8,665.0 L862.3,665.2 L863.7,665.4 L865.2,665.6 L866.7,665.8 L868.2,666.0 L869.7,666.2 L871.2,666.4 L872.7,666.6 L874.1,666.8 L875.6,667.0 L877.1,667.2 L878.6,667.4 L880.1,667.6 L881.6,667.8 L883.1,667.9 L884.6,668.1 L886.1,668.2 L887.6,668.4 L889.1,668.5 L890.5,668.6 L892.0,668.8 L893.5,668.9 L895.0,669.1 L896.5,669.2 L898.0,669.4 L899.5,669.5 L901.0,669.7 L902.5,669.9 L904.0,670.1 L905.4,670.4 L906.9,670.7 L908.4,671.0 L909.8,671.4 L911.3,671.8 L912.7,672.2 L914.1,672.6 L915.6,673.1 L917.0,673.6 L918.4,674.0 L919.8,674.5 L921.2,675.0 L922.7,675.4 L924.1,675.9 L925.5,676.3 L927.0,676.7 L928.4,677.0 L929.9,677.3 L931.4,677.6 L932.9,677.9 L934.3,678.1 L935.8,678.3 L937.3,678.4 L938.8,678.6 L940.3,678.7 L941.8,678.8 L943.3,678.9 L944.8,679.0 L946.3,679.1 L947.8,679.2 L949.3,679.2 L950.8,679.3 L952.3,679.4 L953.8,679.4 L955.3,679.5 L956.8,679.5 L958.3,679.6 L959.8,679.6 L961.3,679.7 L962.8,679.8 L964.3,679.8 L965.8,679.9 L967.3,680.0 L968.8,680.1 L970.3,680.2 L971.8,680.3 L973.2,680.5 L974.7,680.6 L976.2,680.8 L977.7,680.9 L979.2,681.1 L980.7,681.2 L982.2,681.4 L983.7,681.6 L985.2,681.8 L986.7,682.0 L988.1,682.2 L989.6,682.4 L991.1,682.6 L992.6,682.8 L994.1,683.0 L995.6,683.2 L997.1,683.4 L998.6,683.6 L1000.0,683.8 L1001.5,684.0 L1003.0,684.2 L1004.5,684.5 L1006.0,684.7 L1007.5,684.9 L1008.9,685.1 L1010.4,685.3 L1011.9,685.5 L1013.4,685.7 L1014.9,685.9 L1014.9,685.9" stroke="#6299cc"/>
<path d="M133.0,635.0 L133.4,633.6 L133.8,632.1 L134.2,630.7 L134.6,629.2 L135.0,627.8 L135.4,626.3 L135.8,624.9 L136.2,623.4 L136.6,622.0 L137.0,620.5 L137.4,619.1 L137.8,617.7 L138.2,616.2 L138.6,614.8 L139.1,613.3 L139.5,611.9 L139.9,610.4 L140.3,609.0 L140.7,607.6 L141.1,606.1 L141.6,604.7 L142.0,603.3 L142.4,601.8 L142.9,600.4 L143.3,598.9 L143.7,597.5 L144.2,596.1 L144.6,594.6 L145.0,593.2 L145.5,591.8 L145.9,590.3 L146.3,588.9 L146.8,587.5 L147.2,586.0 L147.6,584.6 L148.0,583.1 L148.5,581.7 L148.9,580.3 L149.3,578.8 L149.7,577.4 L150.1,575.9 L150.5,574.5 L151.0,573.1 L151.4,571.6 L151.8,570.2 L152.2,568.7 L152.6,567.3 L153.0,565.9 L153.5,564.4 L153.9,563.0 L154.3,561.5 L154.7,560.1 L155.2,558.7 L155.6,557.2 L156.0,555.8 L156.4,554.3 L156.9,552.9 L157.3,551.5 L157.7,550.0 L158.1,548.6 L158.6,547.1 L159.0,545.7 L159.4,544.3 L159.9,542.8 L160.3,541.4 L160.7,540.0 L161.1,538.5 L161.6,537.1 L162.0,535.7 L162.5,534.2 L162.9,532.8 L163.3,531.3 L163.8,529.9 L164.2,528.5 L164.6,527.0 L165.1,525.6 L165.5,524.2 L165.9,522.7 L166.4,521.3 L166.8,519.9 L167.2,518.4 L167.7,517.0 L168.1,515.6 L168.5,514.1 L168.9,512.7 L169.4,511.2 L169.8,509.8 L170.2,508.4 L170.6,506.9 L171.0,505.5 L171.4,504.0 L171.8,502.6 L172.2,501.1 L172.6,499.7 L173.0,498.2 L173.4,496.8 L173.8,495.3 L174.2,493.9 L174.6,492.5 L175.0,491.0 L175.4,489.6 L175.8,488.1 L176.2,486.7 L176.6,485.2 L177.0,483.8 L177.4,482.3 L177.8,480.9 L178.2,479.4 L178.6,478.0 L179.0,476.5 L179.4,475.1 L179.8,473.7 L180.2,472.2 L180.6,470.8 L181.0,469.3 L181.4,467.9 L181.8,466.4 L182.2,465.0 L182.7,463.6 L183.1,462.1 L183.5,460.7 L184.0,459.2 L184.4,457.8 L184.8,456.4 L185.3,455.0 L185.8,453.5 L186.2,452.1 L186.7,450.7 L187.2,449.3 L187.7,447.9 L188.2,446.4 L188.7,445.0 L189.2,443.6 L189.8,442.2 L190.3,440.8 L190.8,439.4 L191.4,438.0 L191.9,436.6 L192.4,435.2 L192.9,433.8 L193.5,432.4 L194.0,431.0 L194.5,429.6 L195.0,428.2 L195.6,426.8 L196.1,425.4 L196.7,424.0 L197.3,422.6 L197.9,421.2 L198.5,419.9 L199.2,418.5 L199.9,417.2 L200.6,415.9 L201.3,414.6 L202.1,413.3 L202.8,412.0 L203.6,410.7 L204.5,409.5 L205.3,408.3 L206.2,407.0 L207.1,405.9 L208.1,404.7 L209.0,403.6 L210.1,402.5 L211.1,401.5 L212.3,400.5 L213.4,399.5 L214.6,398.6 L215.7,397.6 L216.9,396.7 L218.1,395.8 L219.3,394.9 L220.4,393.9 L221.6,393.0 L222.7,392.0 L223.8,391.0 L224.9,389.9 L226.0,388.9 L227.0,387.8 L228.0,386.7 L229.0,385.6 L230.0,384.5 L230.9,383.3 L231.8,382.1 L232.7,380.9 L233.6,379.7 L234.4,378.4 L235.2,377.2 L236.0,375.9 L236.9,374.6 L237.7,373.4 L238.5,372.1 L239.3,370.9 L240.1,369.6 L241.0,368.4 L241.8,367.1 L242.6,365.9 L243.5,364.6 L244.3,363.4 L245.2,362.2 L246.0,360.9 L246.9,359.7 L247.7,358.4 L248.5,357.2 L249.3,355.9 L250.1,354.6 L250.9,353.4 L251.7,352.1 L252.5,350.8 L253.3,349.5 L254.0,348.2 L254.8,347.0 L255.6,345.7 L256.4,344.4 L257.2,343.1 L258.0,341.9 L258.8,340.6 L259.6,339.4 L260.5,338.1 L261.4,336.9 L262.3,335.7 L263.2,334.5 L264.1,333.4 L265.1,332.2 L266.0,331.1 L267.0,330.0 L268.1,328.9 L269.1,327.8 L270.2,326.8 L271.4,325.9 L272.6,325.0 L273.8,324.2 L275.1,323.4 L276.4,322.8 L277.8,322.2 L279.2,321.7 L280.6,321.3 L282.0,321.0 L283.5,320.8 L285.0,320.7 L286.4,320.6 L287.9,320.6 L289.4,320.8 L290.9,321.0 L292.3,321.3 L293.7,321.7 L295.1,322.3 L296.4,322.9 L297.6,323.6 L298.8,324.5 L299.9,325.4 L301.0,326.5 L301.9,327.6 L302.9,328.7 L303.8,329.9 L304.7,331.1 L305.6,332.3 L306.5,333.5 L307.3,334.8 L308.2,336.0 L309.0,337.2 L309.9,338.5 L310.8,339.7 L311.6,340.9 L312.5,342.1 L313.4,343.4 L314.2,344.6 L315.1,345.8 L316.0,347.0 L316.9,348.2 L317.8,349.4 L318.7,350.6 L319.6,351.8 L320.5,353.0 L321.4,354.2 L322.3,355.4 L323.2,356.6 L324.1,357.8 L325.1,358.9 L326.1,360.0 L327.1,361.1 L328.2,362.2 L329.2,363.3 L330.3,364.3 L331.3,365.4 L332.4,366.4 L333.5,367.5 L334.5,368.5 L335.6,369.6 L336.6,370.7 L337.7,371.7 L338.8,372.8 L339.8,373.8 L340.9,374.9 L342.0,375.9 L343.0,377.0 L344.1,378.0 L345.2,379.1 L346.3,380.1 L347.4,381.2 L348.4,382.2 L349.5,383.2 L350.6,384.2 L351.7,385.3 L352.9,386.3 L354.0,387.3 L355.1,388.3 L356.2,389.2 L357.4,390.2 L358.5,391.2 L359.6,392.2 L360.8,393.2 L361.9,394.2 L363.0,395.2 L364.1,396.1 L365.3,397.1 L366.4,398.1 L367.5,399.2 L368.6,400.2 L369.7,401.2 L370.8,402.2 L371.9,403.2 L373.0,404.2 L374.1,405.2 L375.2,406.3 L376.3,407.3 L377.4,408.3 L378.5,409.4 L379.5,410.4 L380.6,411.5 L381.7,412.5 L382.8,413.6 L383.8,414.6 L384.9,415.7 L385.9,416.8 L386.9,417.9 L388.0,419.0 L389.0,420.1 L389.9,421.2 L390.9,422.3 L391.9,423.5 L392.8,424.7 L393.8,425.8 L394.7,427.0 L395.6,428.2 L396.5,429.4 L397.5,430.5 L398.4,431.7 L399.3,432.9 L400.3,434.1 L401.2,435.2 L402.2,436.4 L403.2,437.5 L404.2,438.6 L405.2,439.7 L406.2,440.8 L407.2,442.0 L408.2,443.1 L409.2,444.2 L410.2,445.3 L411.1,446.5 L412.1,447.7 L413.0,448.9 L413.8,450.1 L414.7,451.3 L415.5,452.6 L416.3,453.8 L417.1,455.1 L417.9,456.4 L418.7,457.6 L419.5,458.9 L420.3,460.2 L421.1,461.5 L421.8,462.7 L422.6,464.0 L423.4,465.3 L424.2,466.6 L425.0,467.9 L425.7,469.1 L426.5,470.4 L427.3,471.7 L428.1,473.0 L428.9,474.3 L429.7,475.5 L430.5,476.8 L431.2,478.1 L432.0,479.4 L432.8,480.6 L433.7,481.9 L434.5,483.1 L435.3,484.4 L436.1,485.7 L437.0,486.9 L437.8,488.1 L438.6,489.4 L439.5,490.6 L440.4,491.8 L441.2,493.1 L442.1,494.3 L443.0,495.5 L443.9,496.7 L444.8,497.9 L445.7,499.1 L446.6,500.3 L447.5,501.5 L448.4,502.7 L449.3,503.9 L450.3,505.0 L451.2,506.2 L452.2,507.4 L453.1,508.5 L454.1,509.7 L455.1,510.8 L456.0,511.9 L457.0,513.1 L458.0,514.2 L459.0,515.3 L460.0,516.4 L461.0,517.6 L462.0,518.7 L463.0,519.8 L464.0,520.9 L465.1,522.0 L466.1,523.1 L467.1,524.1 L468.2,525.2 L469.2,526.3 L470.3,527.3 L471.4,528.4 L472.4,529.4 L473.5,530.5 L474.6,531.5 L475.7,532.5 L476.9,533.5 L478.0,534.4 L479.2,535.4 L480.4,536.3 L481.5,537.2 L482.8,538.1 L484.0,539.0 L485.2,539.8 L486.5,540.6 L487.8,541.4 L489.1,542.2 L490.4,542.9 L491.7,543.7 L493.0,544.4 L494.3,545.1 L495.6,545.9 L496.9,546.6 L498.2,547.4 L499.5,548.1 L500.7,548.9 L502.0,549.7 L503.3,550.5 L504.5,551.3 L505.7,552.2 L507.0,553.1 L508.2,554.0 L509.4,554.8 L510.6,555.8 L511.8,556.7 L513.0,557.6 L514.1,558.5 L515.3,559.4 L516.5,560.4 L517.7,561.3 L518.8,562.3 L520.0,563.2 L521.2,564.1 L522.4,565.0 L523.5,566.0 L524.7,566.9 L525.9,567.7 L527.2,568.6 L528.4,569.5 L529.6,570.3 L530.9,571.1 L532.2,571.9 L533.5,572.6 L534.8,573.3 L536.2,573.9 L537.5,574.6 L538.9,575.2 L540.2,575.9 L541.6,576.6 L542.9,577.2 L544.2,578.0 L545.5,578.7 L546.8,579.5 L548.0,580.3 L549.3,581.1 L550.5,582.0 L551.7,582.8 L553.0,583.7 L554.2,584.6 L555.5,585.4 L556.7,586.2 L558.0,587.0 L559.2,587.8 L560.5,588.6 L561.8,589.4 L563.1,590.1 L564.4,590.9 L565.7,591.6 L567.0,592.3 L568.3,593.0 L569.7,593.7 L571.0,594.5 L572.3,595.1 L573.7,595.8 L575.0,596.5 L576.3,597.2 L577.7,597.8 L579.0,598.5 L580.4,599.1 L581.8,599.7 L583.1,600.3 L584.5,600.9 L585.9,601.4 L587.3,602.0 L588.7,602.5 L590.2,602.9 L591.6,603.4 L593.0,603.8 L594.5,604.2 L595.9,604.6 L597.4,605.0 L598.8,605.3 L600.3,605.6 L601.8,606.0 L603.2,606.3 L604.7,606.6 L606.2,606.9 L607.6,607.2 L609.1,607.6 L610.5,607.9 L612.0,608.2 L613.5,608.6 L614.9,608.9 L616.4,609.3 L617.8,609.7 L619.3,610.0 L620.7,610.4 L622.2,610.7 L623.7,611.1 L625.1,611.5 L626.6,611.8 L628.0,612.2 L629.5,612.5 L630.9,612.9 L632.4,613.3 L633.8,613.6 L635.3,614.0 L636.8,614.4 L638.2,614.7 L639.7,615.1 L641.1,615.4 L642.6,615.8 L644.0,616.2 L645.5,616.5 L647.0,616.9 L648.4,617.2 L649.9,617.6 L651.3,617.9 L652.8,618.3 L654.2,618.7 L655.7,619.0 L657.1,619.4 L658.6,619.8 L660.0,620.2 L661.5,620.6 L662.9,621.0 L664.4,621.4 L665.8,621.8 L667.2,622.3 L668.7,622.7 L670.1,623.2 L671.5,623.6 L673.0,624.1 L674.4,624.5 L675.8,625.0 L677.2,625.5 L678.7,626.0 L680.1,626.4 L681.5,626.9 L682.9,627.4 L684.3,627.9 L685.8,628.4 L687.2,628.9 L688.6,629.4 L690.0,629.9 L691.4,630.4 L692.8,630.9 L694.2,631.4 L695.7,631.9 L697.1,632.4 L698.5,632.9 L699.9,633.4 L701.3,633.9 L702.7,634.5 L704.1,635.0 L705.5,635.5 L706.9,636.0 L708.3,636.5 L709.7,637.0 L711.2,637.5 L712.6,638.1 L714.0,638.6 L715.4,639.1 L716.8,639.6 L718.2,640.1 L719.6,640.6 L721.1,641.1 L722.5,641.5 L723.9,642.0 L725.3,642.5 L726.7,642.9 L728.2,643.4 L729.6,643.8 L731.0,644.3 L732.5,644.7 L733.9,645.1 L735.4,645.5 L736.8,645.9 L738.3,646.3 L739.7,646.6 L741.2,647.0 L742.6,647.4 L744.1,647.8 L745.5,648.1 L747.0,648.5 L748.4,648.9 L749.9,649.2 L751.4,649.6 L752.8,650.0 L754.3,650.4 L755.7,650.8 L757.1,651.2 L758.6,651.6 L760.0,652.0 L761.5,652.4 L762.9,652.8 L764.4,653.2 L765.8,653.6 L767.3,654.0 L768.7,654.4 L770.2,654.8 L771.6,655.2 L773.1,655.6 L774.5,655.9 L776.0,656.3 L777.4,656.6 L778.9,656.9 L780.4,657.3 L781.8,657.6 L783.3,657.8 L784.8,658.1 L786.2,658.4 L787.7,658.6 L789.2,658.9 L790.7,659.1 L792.2,659.4 L793.6,659.6 L795.1,659.8 L796.6,660.0 L798.1,660.3 L799.6,660.5 L801.1,660.7 L802.5,661.0 L804.0,661.2 L805.5,661.5 L807.0,661.7 L808.5,662.0 L809.9,662.2 L811.4,662.5 L812.9,662.7 L814.4,663.0 L815.8,663.3 L817.3,663.5 L818.8,663.8 L820.3,664.1 L821.7,664.4 L823.2,664.6 L824.7,664.9 L826.2,665.1 L827.7,665.4 L829.1,665.7 L830.6,665.9 L832.1,666.2 L833.6,666.4 L835.0,666.6 L836.5,666.9 L838.0,667.1 L839.5,667.3 L841.0,667.5 L842.5,667.8 L844.0,668.0 L845.4,668.1 L846.9,668.3 L848.4,668.5 L849.9,668.7 L851.4,668.9 L852.9,669.0 L854.4,669.2 L855.9,669.4 L857.4,669.5 L858.9,669.7 L860.3,669.8 L861.8,670.0 L863.3,670.2 L864.8,670.3 L866.3,670.5 L867.8,670.6 L869.3,670.8 L870.8,670.9 L872.3,671.1 L873.8,671.3 L875.3,671.4 L876.7,671.6 L878.2,671.8 L879.7,672.0 L881.2,672.2 L882.7,672.4 L884.2,672.5 L885.7,672.7 L887.2,672.9 L888.6,673.1 L890.1,673.3 L891.6,673.6 L893.1,673.8 L894.6,674.0 L896.1,674.2 L897.6,674.4 L899.0,674.6 L900.5,674.8 L902.0,675.0 L903.5,675.2 L905.0,675.5 L906.5,675.7 L908.0,675.9 L909.4,676.1 L910.9,676.3 L912.4,676.5 L913.9,676.8 L915.4,677.0 L916.9,677.2 L918.3,677.4 L919.8,677.6 L921.3,677.8 L922.8,678.0 L924.3,678.2 L925.8,678.5 L927.3,678.7 L928.7,678.9 L930.2,679.1 L931.7,679.4 L933.2,679.6 L934.6,679.9 L936.1,680.2 L937.6,680.5 L939.0,680.9 L940.4,681.3 L941.8,681.8 L943.3,682.2 L944.7,682.5 L946.1,682.9 L947.6,683.1 L949.1,683.3 L950.6,683.4 L952.1,683.5 L953.6,683.6 L955.1,683.6 L956.6,683.6 L958.1,683.7 L959.6,683.7 L961.1,683.7 L962.6,683.7 L964.1,683.7 L965.6,683.7 L967.1,683.7 L968.6,683.7 L970.1,683.8 L971.6,683.8 L973.1,683.8 L974.6,683.8 L976.1,683.9 L977.5,683.9 L979.0,683.9 L980.5,684.0 L982.0,684.0 L983.5,684.1 L985.0,684.2 L986.5,684.3 L988.0,684.4 L989.5,684.5 L991.0,684.6 L992.5,684.8 L994.0,684.9 L995.5,685.1 L997.0,685.3 L998.5,685.4 L1000.0,685.6 L1001.5,685.8 L1002.9,686.0 L1004.4,686.1 L1005.9,686.3 L1007.4,686.5 L1008.9,686.7 L1010.4,686.9 L1011.9,687.1 L1013.4,687.3 L1014.9,687.4 L1014.9,687.4" stroke="#cd6300"/>
<path d="M133.0,666.5 L134.4,665.9 L135.8,665.3 L137.2,664.8 L138.5,664.2 L139.9,663.6 L141.3,663.0 L142.6,662.4 L144.0,661.7 L145.3,661.0 L146.7,660.3 L148.0,659.6 L149.2,658.8 L150.5,658.0 L151.7,657.2 L153.0,656.3 L154.2,655.4 L155.3,654.5 L156.5,653.5 L157.6,652.6 L158.7,651.6 L159.8,650.5 L160.9,649.5 L162.0,648.4 L163.0,647.3 L164.0,646.2 L165.0,645.1 L165.9,644.0 L166.9,642.8 L167.8,641.6 L168.6,640.4 L169.5,639.1 L170.4,637.9 L171.2,636.7 L172.1,635.4 L172.9,634.2 L173.8,633.0 L174.7,631.8 L175.5,630.6 L176.4,629.4 L177.4,628.2 L178.3,627.0 L179.3,625.9 L180.2,624.7 L181.2,623.6 L182.2,622.4 L183.2,621.3 L184.2,620.2 L185.2,619.1 L186.3,618.0 L187.3,617.0 L188.4,616.0 L189.5,615.0 L190.7,614.0 L191.8,613.0 L193.0,612.1 L194.2,611.2 L195.4,610.3 L196.6,609.4 L197.8,608.5 L199.0,607.7 L200.3,606.9 L201.6,606.1 L202.8,605.3 L204.1,604.5 L205.4,603.8 L206.7,603.0 L208.0,602.3 L209.4,601.6 L210.7,600.9 L212.0,600.2 L213.4,599.6 L214.7,598.9 L216.1,598.3 L217.5,597.7 L218.8,597.1 L220.2,596.5 L221.6,595.9 L223.0,595.3 L224.3,594.7 L225.7,594.1 L227.1,593.5 L228.5,592.9 L229.8,592.2 L231.2,591.6 L232.5,591.0 L233.9,590.4 L235.3,589.7 L236.6,589.1 L238.0,588.5 L239.4,587.9 L240.7,587.3 L242.1,586.7 L243.5,586.1 L244.9,585.5 L246.2,584.9 L247.6,584.3 L249.0,583.8 L250.4,583.2 L251.8,582.7 L253.2,582.1 L254.6,581.6 L256.0,581.1 L257.4,580.6 L258.9,580.1 L260.3,579.6 L261.7,579.2 L263.1,578.7 L264.6,578.3 L266.0,577.9 L267.5,577.5 L268.9,577.1 L270.4,576.8 L271.8,576.4 L273.3,576.1 L274.8,575.8 L276.2,575.4 L277.7,575.1 L279.2,574.8 L280.6,574.5 L282.1,574.3 L283.6,574.0 L285.1,573.7 L286.5,573.5 L288.0,573.2 L289.5,573.0 L291.0,572.8 L292.5,572.7 L294.0,572.6 L295.4,572.6 L296.9,572.6 L298.4,572.8 L299.8,573.0 L301.3,573.4 L302.7,573.8 L304.1,574.4 L305.4,574.9 L306.8,575.6 L308.1,576.2 L309.5,576.9 L310.8,577.6 L312.1,578.3 L313.5,578.9 L314.8,579.6 L316.2,580.2 L317.6,580.8 L318.9,581.4 L320.3,581.9 L321.8,582.4 L323.2,582.9 L324.6,583.4 L326.0,583.9 L327.4,584.4 L328.8,584.9 L330.2,585.4 L331.6,586.0 L333.0,586.5 L334.4,587.1 L335.8,587.6 L337.2,588.2 L338.6,588.7 L340.0,589.2 L341.4,589.8 L342.8,590.3 L344.2,590.8 L345.6,591.3 L347.1,591.8 L348.5,592.3 L349.9,592.7 L351.3,593.2 L352.8,593.7 L354.2,594.1 L355.6,594.6 L357.0,595.1 L358.5,595.6 L359.9,596.1 L361.3,596.6 L362.7,597.1 L364.1,597.6 L365.5,598.2 L366.8,598.8 L368.2,599.5 L369.5,600.1 L370.9,600.8 L372.2,601.5 L373.5,602.3 L374.8,603.0 L376.1,603.8 L377.3,604.6 L378.6,605.3 L379.9,606.1 L381.2,606.8 L382.5,607.6 L383.9,608.3 L385.2,609.0 L386.5,609.6 L387.9,610.3 L389.2,610.9 L390.6,611.5 L392.0,612.2 L393.3,612.8 L394.7,613.4 L396.1,614.0 L397.5,614.5 L398.9,615.1 L400.2,615.7 L401.6,616.3 L403.0,616.8 L404.4,617.3 L405.8,617.9 L407.2,618.4 L408.7,618.9 L410.1,619.3 L411.5,619.7 L413.0,620.1 L414.4,620.4 L415.9,620.7 L417.4,620.9 L418.8,621.1 L420.3,621.2 L421.8,621.4 L423.3,621.6 L424.8,621.8 L426.2,622.1 L427.7,622.5 L429.1,622.9 L430.5,623.3 L432.0,623.8 L433.4,624.4 L434.8,624.9 L436.1,625.5 L437.5,626.0 L438.9,626.6 L440.3,627.2 L441.7,627.8 L443.0,628.4 L444.4,629.0 L445.8,629.6 L447.2,630.2 L448.6,630.7 L450.0,631.3 L451.4,631.8 L452.8,632.4 L454.2,632.9 L455.6,633.4 L457.0,633.9 L458.4,634.3 L459.8,634.8 L461.3,635.3 L462.7,635.7 L464.1,636.2 L465.6,636.6 L467.0,637.1 L468.4,637.5 L469.9,638.0 L471.3,638.4 L472.7,638.8 L474.2,639.3 L475.6,639.7 L477.0,640.1 L478.5,640.5 L479.9,641.0 L481.4,641.4 L482.8,641.8 L484.2,642.3 L485.7,642.7 L487.1,643.1 L488.5,643.6 L490.0,644.0 L491.4,644.5 L492.8,644.9 L494.3,645.4 L495.7,645.8 L497.1,646.2 L498.6,646.7 L500.0,647.1 L501.4,647.5 L502.9,648.0 L504.3,648.4 L505.8,648.8 L507.2,649.2 L508.7,649.5 L510.1,649.9 L511.6,650.2 L513.1,650.6 L514.5,650.9 L516.0,651.2 L517.5,651.5 L518.9,651.7 L520.4,652.0 L521.9,652.2 L523.4,652.5 L524.9,652.7 L526.3,652.9 L527.8,653.1 L529.3,653.3 L530.8,653.5 L532.3,653.7 L533.8,653.9 L535.3,654.1 L536.7,654.4 L538.2,654.6 L539.7,654.8 L541.2,655.0 L542.7,655.2 L544.2,655.4 L545.6,655.6 L547.1,655.8 L548.6,656.1 L550.1,656.3 L551.6,656.5 L553.1,656.7 L554.6,656.9 L556.0,657.1 L557.5,657.3 L559.0,657.5 L560.5,657.7 L562.0,657.9 L563.5,658.2 L565.0,658.4 L566.4,658.6 L567.9,658.8 L569.4,659.0 L570.9,659.2 L572.4,659.4 L573.9,659.6 L575.4,659.8 L576.9,659.9 L578.3,660.1 L579.8,660.3 L581.3,660.5 L582.8,660.7 L584.3,660.9 L585.8,661.1 L587.3,661.3 L588.8,661.5 L590.2,661.6 L591.7,661.8 L593.2,662.0 L594.7,662.2 L596.2,662.4 L597.7,662.5 L599.2,662.7 L600.7,662.9 L602.2,663.1 L603.6,663.2 L605.1,663.4 L606.6,663.6 L608.1,663.7 L609.6,663.9 L611.1,664.1 L612.6,664.2 L614.1,664.4 L615.6,664.5 L617.1,664.7 L618.6,664.8 L620.1,665.0 L621.6,665.1 L623.0,665.2 L624.5,665.4 L626.0,665.5 L627.5,665.6 L629.0,665.7 L630.5,665.8 L632.0,665.9 L633.5,666.0 L635.0,666.1 L636.5,666.2 L638.0,666.2 L639.5,666.3 L641.0,666.4 L642.5,666.5 L644.0,666.6 L645.5,666.7 L647.0,666.7 L648.5,666.8 L650.0,666.9 L651.5,667.0 L653.0,667.1 L654.5,667.2 L656.0,667.3 L657.5,667.4 L659.0,667.5 L660.5,667.6 L662.0,667.8 L663.5,667.9 L665.0,668.0 L666.4,668.1 L667.9,668.2 L669.4,668.3 L670.9,668.5 L672.4,668.6 L673.9,668.7 L675.4,668.9 L676.9,669.0 L678.4,669.1 L679.9,669.3 L681.4,669.4 L682.9,669.6 L684.4,669.7 L685.9,669.9 L687.4,670.1 L688.8,670.2 L690.3,670.4 L691.8,670.6 L693.3,670.8 L694.8,670.9 L696.3,671.1 L697.8,671.3 L699.3,671.5 L700.8,671.7 L702.2,671.9 L703.7,672.1 L705.2,672.3 L706.7,672.5 L708.2,672.7 L709.7,673.0 L711.1,673.2 L712.6,673.4 L714.1,673.7 L715.6,673.9 L717.1,674.1 L718.6,674.4 L720.0,674.7 L721.5,674.9 L723.0,675.2 L724.5,675.4 L725.9,675.7 L727.4,675.9 L728.9,676.2 L730.4,676.4 L731.9,676.7 L733.3,676.9 L734.8,677.2 L736.3,677.4 L737.8,677.6 L739.3,677.8 L740.7,678.1 L742.2,678.3 L743.7,678.5 L745.2,678.7 L746.7,678.9 L748.2,679.2 L749.7,679.4 L751.1,679.6 L752.6,679.8 L754.1,680.0 L755.6,680.2 L757.1,680.4 L758.6,680.6 L760.1,680.7 L761.6,680.9 L763.0,681.1 L764.5,681.2 L766.0,681.4 L767.5,681.5 L769.0,681.6 L770.5,681.7 L772.0,681.8 L773.5,681.9 L775.0,682.0 L776.5,682.1 L778.0,682.1 L779.5,682.2 L781.0,682.2 L782.5,682.2 L784.0,682.3 L785.5,682.3 L787.0,682.3 L788.5,682.3 L790.0,682.3 L791.5,682.3 L793.0,682.3 L794.5,682.3 L796.0,682.4 L797.5,682.4 L799.0,682.4 L800.5,682.4 L802.0,682.5 L803.5,682.5 L805.0,682.6 L806.5,682.7 L808.0,682.7 L809.5,682.8 L811.0,682.9 L812.5,683.0 L814.0,683.1 L815.5,683.2 L817.0,683.3 L818.5,683.4 L820.0,683.6 L821.5,683.7 L822.9,683.8 L824.4,683.9 L825.9,684.1 L827.4,684.2 L828.9,684.3 L830.4,684.4 L831.9,684.6 L833.4,684.7 L834.9,684.8 L836.4,684.9 L837.9,685.0 L839.4,685.2 L840.9,685.3 L842.4,685.4 L843.9,685.5 L845.4,685.6 L846.9,685.7 L848.4,685.8 L849.9,685.9 L851.4,686.0 L852.9,686.1 L854.4,686.3 L855.8,686.4 L857.3,686.5 L858.8,686.6 L860.3,686.7 L861.8,686.8 L863.3,686.9 L864.8,687.0 L866.3,687.1 L867.8,687.2 L869.3,687.3 L870.8,687.4 L872.3,687.5 L873.8,687.6 L875.3,687.7 L876.8,687.8 L878.3,687.9 L879.8,688.0 L881.3,688.1 L882.8,688.1 L884.3,688.2 L885.8,688.3 L887.3,688.4 L888.8,688.4 L890.3,688.5 L891.8,688.6 L893.3,688.6 L894.8,688.7 L896.3,688.8 L897.8,688.9 L899.3,688.9 L900.8,689.0 L902.3,689.1 L903.8,689.2 L905.3,689.3 L906.8,689.4 L908.3,689.5 L909.7,689.6 L911.2,689.7 L912.7,689.9 L914.2,690.0 L915.7,690.1 L917.2,690.2 L918.7,690.4 L920.2,690.5 L921.7,690.6 L923.2,690.8 L924.7,690.9 L926.2,691.0 L927.7,691.2 L929.2,691.3 L930.7,691.4 L932.2,691.6 L933.7,691.7 L935.2,691.8 L936.6,692.0 L938.1,692.1 L939.6,692.2 L941.1,692.4 L942.6,692.5 L944.1,692.6 L945.6,692.7 L947.1,692.8 L948.6,692.9 L950.1,693.0 L951.6,693.1 L953.1,693.2 L954.6,693.3 L956.1,693.4 L957.6,693.4 L959.1,693.5 L960.6,693.6 L962.1,693.6 L963.6,693.6 L965.1,693.7 L966.6,693.7 L968.1,693.7 L969.6,693.8 L971.1,693.8 L972.6,693.8 L974.1,693.8 L975.6,693.8 L977.1,693.8 L978.6,693.8 L980.1,693.9 L981.6,693.9 L983.1,693.9 L984.6,693.9 L986.1,694.0 L987.6,694.0 L989.1,694.1 L990.6,694.2 L992.1,694.2 L993.6,694.3 L995.1,694.5 L996.6,694.6 L998.1,694.7 L999.6,694.8 L1001.0,695.0 L1002.5,695.1 L1004.0,695.3 L1005.5,695.4 L1007.0,695.6 L1008.5,695.7 L1010.0,695.9 L1011.5,696.1 L1013.0,696.2 L1014.5,696.4 L1015.0,696.5" stroke="#000000"/>
</g>
<line x1="321.3" y1="147.5" x2="434.6" y2="126.5" stroke="#000" stroke-width="4.8"/><polygon points="470.0,120.0 434.3,136.2 430.9,117.7" fill="#000"/>
<line x1="338.0" y1="348.7" x2="458.6" y2="330.2" stroke="#000" stroke-width="4.8"/><polygon points="494.2,324.7 458.1,339.8 455.2,321.2" fill="#000"/>
<line x1="319.8" y1="578.2" x2="661.4" y2="518.8" stroke="#fe0000" stroke-width="4.8"/><polygon points="696.9,512.6 661.1,528.4 657.9,509.9" fill="#fe0000"/>
<text x="258.7" y="762" font-size="40.4" text-anchor="middle" >400</text>
<text x="468.6" y="762" font-size="40.4" text-anchor="middle" >450</text>
<text x="678.5" y="762" font-size="40.4" text-anchor="middle" >500</text>
<text x="888.4" y="762" font-size="40.4" text-anchor="middle" >550</text>
<text x="118" y="713.6" font-size="40.4" text-anchor="end" >0</text>
<text x="118" y="514.5" font-size="40.4" text-anchor="end" >40</text>
<text x="118" y="315.4" font-size="40.4" text-anchor="end" >80</text>
<text x="118" y="116.2" font-size="40.4" text-anchor="end" >120</text>
<text x="395.5" y="829.6" font-size="40.4" >Wavelength (nm)</text>
<text transform="translate(32.1,660.2) rotate(-90)" font-size="40.3" >Fluorescence intensity (a.u.)</text>
<line x1="827.5" y1="51.7" x2="902.5" y2="51.7" stroke="#ec0000" stroke-width="4.7" stroke-linecap="round"/>
<text x="912" y="62.8" font-size="33" >None</text>
<line x1="827.5" y1="112.5" x2="902.5" y2="112.5" stroke="#30639b" stroke-width="4.7" stroke-linecap="round"/>
<text x="912" y="123.6" font-size="33" >Ca<tspan dy="-13.7">2+</tspan></text>
<line x1="827.5" y1="173.3" x2="902.5" y2="173.3" stroke="#fdc210" stroke-width="4.7" stroke-linecap="round"/>
<text x="912" y="184.4" font-size="33" >Fe<tspan dy="-13.7">2+</tspan></text>
<line x1="827.5" y1="233.8" x2="902.5" y2="233.8" stroke="#39c46e" stroke-width="4.7" stroke-linecap="round"/>
<text x="912" y="244.9" font-size="33" >Mn<tspan dy="-13.7">2+</tspan></text>
<line x1="827.5" y1="294.3" x2="902.5" y2="294.3" stroke="#616199" stroke-width="4.7" stroke-linecap="round"/>
<text x="912" y="305.4" font-size="33" >Ni<tspan dy="-13.7">2+</tspan></text>
<line x1="827.5" y1="354.9" x2="902.5" y2="354.9" stroke="#9b9b9b" stroke-width="4.7" stroke-linecap="round"/>
<text x="912" y="366.0" font-size="33" >Zn<tspan dy="-13.7">2+</tspan></text>
<line x1="827.5" y1="415.6" x2="902.5" y2="415.6" stroke="#fe6262" stroke-width="4.7" stroke-linecap="round"/>
<text x="912" y="426.7" font-size="33" >Co<tspan dy="-13.7">2+</tspan></text>
<line x1="827.5" y1="476.0" x2="902.5" y2="476.0" stroke="#6299cc" stroke-width="4.7" stroke-linecap="round"/>
<text x="912" y="487.1" font-size="33" >Cr<tspan dy="-13.7">3+</tspan></text>
<line x1="827.5" y1="536.4" x2="902.5" y2="536.4" stroke="#cd6300" stroke-width="4.7" stroke-linecap="round"/>
<text x="912" y="547.5" font-size="33" >Hg<tspan dy="-13.7">2+</tspan></text>
<line x1="827.5" y1="596.6" x2="902.5" y2="596.6" stroke="#000000" stroke-width="4.7" stroke-linecap="round"/>
<text x="912" y="607.7" font-size="33" >Cu<tspan dy="-13.7">2+</tspan></text>
<text x="492.5" y="130.5" font-size="33" ><tspan y="130.5">None, Ca</tspan><tspan y="116.8">2+</tspan><tspan y="130.5">, Fe</tspan><tspan y="116.8">2+</tspan></text>
<text x="504.4" y="303.5" font-size="33" ><tspan y="303.5">Mn</tspan><tspan y="289.8">2+</tspan><tspan y="303.5">, Ni</tspan><tspan y="289.8">2+</tspan><tspan y="303.5">, Zn</tspan><tspan y="289.8">2+</tspan><tspan y="303.5">,</tspan></text>
<text x="504.4" y="359.4" font-size="33" ><tspan y="359.4">Co</tspan><tspan y="345.7">2+</tspan><tspan y="359.4">, Cr</tspan><tspan y="345.7">3+</tspan><tspan y="359.4">, Hg</tspan><tspan y="345.7">2+</tspan></text>
<text x="704.2" y="523.5" font-size="33" ><tspan y="523.5">Cu</tspan><tspan y="509.8">2+</tspan></text>
</svg></body></html>
